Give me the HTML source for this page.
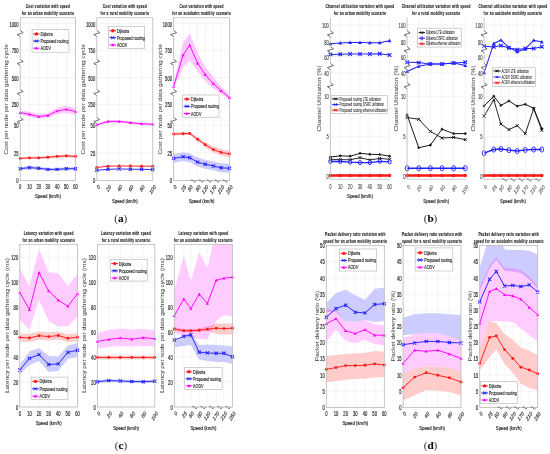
<!DOCTYPE html><html><head><meta charset="utf-8"><style>html,body{margin:0;padding:0;background:#fff;width:550px;height:454px;overflow:hidden}svg{display:block;will-change:transform;filter:blur(0.3px)}</style></head><body>
<svg width="550" height="454" viewBox="0 0 550 454" font-family='"Liberation Sans", sans-serif'>
<rect width="550" height="454" fill="#fff"/>
<line x1="20.2" y1="17.8" x2="20.2" y2="180.5" stroke="#ececec" stroke-width="0.6"/>
<line x1="29.43" y1="17.8" x2="29.43" y2="180.5" stroke="#ececec" stroke-width="0.6"/>
<line x1="38.67" y1="17.8" x2="38.67" y2="180.5" stroke="#ececec" stroke-width="0.6"/>
<line x1="47.9" y1="17.8" x2="47.9" y2="180.5" stroke="#ececec" stroke-width="0.6"/>
<line x1="57.13" y1="17.8" x2="57.13" y2="180.5" stroke="#ececec" stroke-width="0.6"/>
<line x1="66.37" y1="17.8" x2="66.37" y2="180.5" stroke="#ececec" stroke-width="0.6"/>
<line x1="75.6" y1="17.8" x2="75.6" y2="180.5" stroke="#ececec" stroke-width="0.6"/>
<line x1="20.2" y1="23.6" x2="75.6" y2="23.6" stroke="#ececec" stroke-width="0.6"/>
<line x1="20.2" y1="50.2" x2="75.6" y2="50.2" stroke="#ececec" stroke-width="0.6"/>
<line x1="20.2" y1="77.5" x2="75.6" y2="77.5" stroke="#ececec" stroke-width="0.6"/>
<line x1="20.2" y1="104.4" x2="75.6" y2="104.4" stroke="#ececec" stroke-width="0.6"/>
<line x1="20.2" y1="125.3" x2="75.6" y2="125.3" stroke="#ececec" stroke-width="0.6"/>
<line x1="20.2" y1="152.9" x2="75.6" y2="152.9" stroke="#ececec" stroke-width="0.6"/>
<line x1="20.2" y1="180.4" x2="75.6" y2="180.4" stroke="#ececec" stroke-width="0.6"/>
<line x1="96.8" y1="17.8" x2="96.8" y2="180.5" stroke="#ececec" stroke-width="0.6"/>
<line x1="108" y1="17.8" x2="108" y2="180.5" stroke="#ececec" stroke-width="0.6"/>
<line x1="119.2" y1="17.8" x2="119.2" y2="180.5" stroke="#ececec" stroke-width="0.6"/>
<line x1="130.4" y1="17.8" x2="130.4" y2="180.5" stroke="#ececec" stroke-width="0.6"/>
<line x1="141.6" y1="17.8" x2="141.6" y2="180.5" stroke="#ececec" stroke-width="0.6"/>
<line x1="152.8" y1="17.8" x2="152.8" y2="180.5" stroke="#ececec" stroke-width="0.6"/>
<line x1="96.8" y1="23.6" x2="152.8" y2="23.6" stroke="#ececec" stroke-width="0.6"/>
<line x1="96.8" y1="50.2" x2="152.8" y2="50.2" stroke="#ececec" stroke-width="0.6"/>
<line x1="96.8" y1="77.5" x2="152.8" y2="77.5" stroke="#ececec" stroke-width="0.6"/>
<line x1="96.8" y1="104.4" x2="152.8" y2="104.4" stroke="#ececec" stroke-width="0.6"/>
<line x1="96.8" y1="125.3" x2="152.8" y2="125.3" stroke="#ececec" stroke-width="0.6"/>
<line x1="96.8" y1="152.9" x2="152.8" y2="152.9" stroke="#ececec" stroke-width="0.6"/>
<line x1="96.8" y1="180.4" x2="152.8" y2="180.4" stroke="#ececec" stroke-width="0.6"/>
<line x1="173.6" y1="17.8" x2="173.6" y2="180.5" stroke="#ececec" stroke-width="0.6"/>
<line x1="183.1" y1="17.8" x2="183.1" y2="180.5" stroke="#ececec" stroke-width="0.6"/>
<line x1="189.7" y1="17.8" x2="189.7" y2="180.5" stroke="#ececec" stroke-width="0.6"/>
<line x1="197.6" y1="17.8" x2="197.6" y2="180.5" stroke="#ececec" stroke-width="0.6"/>
<line x1="205.2" y1="17.8" x2="205.2" y2="180.5" stroke="#ececec" stroke-width="0.6"/>
<line x1="213.4" y1="17.8" x2="213.4" y2="180.5" stroke="#ececec" stroke-width="0.6"/>
<line x1="221.1" y1="17.8" x2="221.1" y2="180.5" stroke="#ececec" stroke-width="0.6"/>
<line x1="229.5" y1="17.8" x2="229.5" y2="180.5" stroke="#ececec" stroke-width="0.6"/>
<line x1="173.6" y1="23.6" x2="229.5" y2="23.6" stroke="#ececec" stroke-width="0.6"/>
<line x1="173.6" y1="50.2" x2="229.5" y2="50.2" stroke="#ececec" stroke-width="0.6"/>
<line x1="173.6" y1="77.5" x2="229.5" y2="77.5" stroke="#ececec" stroke-width="0.6"/>
<line x1="173.6" y1="104.4" x2="229.5" y2="104.4" stroke="#ececec" stroke-width="0.6"/>
<line x1="173.6" y1="125.3" x2="229.5" y2="125.3" stroke="#ececec" stroke-width="0.6"/>
<line x1="173.6" y1="152.9" x2="229.5" y2="152.9" stroke="#ececec" stroke-width="0.6"/>
<line x1="173.6" y1="180.4" x2="229.5" y2="180.4" stroke="#ececec" stroke-width="0.6"/>
<clipPath id="ca0"><rect x="20.2" y="17.8" width="55.4" height="162.7"/></clipPath>
<clipPath id="ca1"><rect x="96.8" y="17.8" width="56" height="162.7"/></clipPath>
<clipPath id="ca2"><rect x="173.6" y="17.8" width="55.9" height="162.7"/></clipPath>
<polygon points="20.2,110 29.43,111.8 38.67,114 47.9,113 57.13,107.8 66.37,105.5 75.6,108 75.6,115 66.37,113 57.13,114 47.9,118 38.67,119 29.43,116.8 20.2,115" fill="#fff" clip-path="url(#ca0)"/>
<polygon points="20.2,157.2 29.43,156.7 38.67,156.7 47.9,156 57.13,155 66.37,154.5 75.6,155 75.6,157.8 66.37,157.3 57.13,157.8 47.9,158.6 38.67,159.1 29.43,159.1 20.2,159.6" fill="#fff" clip-path="url(#ca0)"/>
<polygon points="20.2,167.2 29.43,165.8 38.67,166.8 47.9,168 57.13,168 66.37,167.2 75.6,167.2 75.6,170.2 66.37,170.2 57.13,170.8 47.9,170.8 38.67,169.8 29.43,169.4 20.2,170.2" fill="#fff" clip-path="url(#ca0)"/>
<polygon points="20.2,110 29.43,111.8 38.67,114 47.9,113 57.13,107.8 66.37,105.5 75.6,108 75.6,115 66.37,113 57.13,114 47.9,118 38.67,119 29.43,116.8 20.2,115" fill="#ff00ff" fill-opacity="0.2" clip-path="url(#ca0)"/>
<polygon points="20.2,157.2 29.43,156.7 38.67,156.7 47.9,156 57.13,155 66.37,154.5 75.6,155 75.6,157.8 66.37,157.3 57.13,157.8 47.9,158.6 38.67,159.1 29.43,159.1 20.2,159.6" fill="#ff0000" fill-opacity="0.2" clip-path="url(#ca0)"/>
<polygon points="20.2,167.2 29.43,165.8 38.67,166.8 47.9,168 57.13,168 66.37,167.2 75.6,167.2 75.6,170.2 66.37,170.2 57.13,170.8 47.9,170.8 38.67,169.8 29.43,169.4 20.2,170.2" fill="#0000ff" fill-opacity="0.2" clip-path="url(#ca0)"/>
<polyline points="20.2,112.6 29.43,114.3 38.67,116.5 47.9,115.4 57.13,111 66.37,109.3 75.6,111.5" fill="none" stroke="#ff00ff" stroke-width="0.95" stroke-linejoin="round"/>
<polygon points="20.2,111 21.8,113.88 18.6,113.88" fill="#ff00ff"/>
<polygon points="29.43,112.7 31.03,115.58 27.83,115.58" fill="#ff00ff"/>
<polygon points="38.67,114.9 40.27,117.78 37.07,117.78" fill="#ff00ff"/>
<polygon points="47.9,113.8 49.5,116.68 46.3,116.68" fill="#ff00ff"/>
<polygon points="57.13,109.4 58.73,112.28 55.53,112.28" fill="#ff00ff"/>
<polygon points="66.37,107.7 67.97,110.58 64.77,110.58" fill="#ff00ff"/>
<polygon points="75.6,109.9 77.2,112.78 74,112.78" fill="#ff00ff"/>
<polyline points="20.2,158.4 29.43,157.9 38.67,157.9 47.9,157.3 57.13,156.4 66.37,155.9 75.6,156.4" fill="none" stroke="#ff1a1a" stroke-width="0.95" stroke-linejoin="round"/>
<circle cx="20.2" cy="158.4" r="1.45" fill="#ff1a1a"/>
<circle cx="29.43" cy="157.9" r="1.45" fill="#ff1a1a"/>
<circle cx="38.67" cy="157.9" r="1.45" fill="#ff1a1a"/>
<circle cx="47.9" cy="157.3" r="1.45" fill="#ff1a1a"/>
<circle cx="57.13" cy="156.4" r="1.45" fill="#ff1a1a"/>
<circle cx="66.37" cy="155.9" r="1.45" fill="#ff1a1a"/>
<circle cx="75.6" cy="156.4" r="1.45" fill="#ff1a1a"/>
<polyline points="20.2,168.7 29.43,167.6 38.67,168.3 47.9,169.4 57.13,169.4 66.37,168.7 75.6,168.7" fill="none" stroke="#2222ff" stroke-width="0.95" stroke-linejoin="round"/>
<path d="M18.6,167.1L21.8,170.3M18.6,170.3L21.8,167.1" stroke="#2222ff" stroke-width="1.05" fill="none"/>
<path d="M27.83,166L31.03,169.2M27.83,169.2L31.03,166" stroke="#2222ff" stroke-width="1.05" fill="none"/>
<path d="M37.07,166.7L40.27,169.9M37.07,169.9L40.27,166.7" stroke="#2222ff" stroke-width="1.05" fill="none"/>
<path d="M46.3,167.8L49.5,171M46.3,171L49.5,167.8" stroke="#2222ff" stroke-width="1.05" fill="none"/>
<path d="M55.53,167.8L58.73,171M55.53,171L58.73,167.8" stroke="#2222ff" stroke-width="1.05" fill="none"/>
<path d="M64.77,167.1L67.97,170.3M64.77,170.3L67.97,167.1" stroke="#2222ff" stroke-width="1.05" fill="none"/>
<path d="M74,167.1L77.2,170.3M74,170.3L77.2,167.1" stroke="#2222ff" stroke-width="1.05" fill="none"/>
<polygon points="96.8,123.5 108,120 119.2,120 130.4,121.3 141.6,122.4 152.8,122.8 152.8,125.6 141.6,125.2 130.4,124.1 119.2,122.8 108,122.8 96.8,126.3" fill="#fff" clip-path="url(#ca1)"/>
<polygon points="96.8,123.5 108,120 119.2,120 130.4,121.3 141.6,122.4 152.8,122.8 152.8,125.6 141.6,125.2 130.4,124.1 119.2,122.8 108,122.8 96.8,126.3" fill="#ff00ff" fill-opacity="0.2" clip-path="url(#ca1)"/>
<polyline points="96.8,124.9 108,121.4 119.2,121.4 130.4,122.7 141.6,123.8 152.8,124.2" fill="none" stroke="#ff00ff" stroke-width="0.95" stroke-linejoin="round"/>
<polygon points="96.8,123.3 98.4,126.18 95.2,126.18" fill="#ff00ff"/>
<polygon points="108,119.8 109.6,122.68 106.4,122.68" fill="#ff00ff"/>
<polygon points="119.2,119.8 120.8,122.68 117.6,122.68" fill="#ff00ff"/>
<polygon points="130.4,121.1 132,123.98 128.8,123.98" fill="#ff00ff"/>
<polygon points="141.6,122.2 143.2,125.08 140,125.08" fill="#ff00ff"/>
<polygon points="152.8,122.6 154.4,125.48 151.2,125.48" fill="#ff00ff"/>
<polyline points="96.8,167.5 108,166.2 119.2,166 130.4,166 141.6,166.2 152.8,166.2" fill="none" stroke="#ff1a1a" stroke-width="0.95" stroke-linejoin="round"/>
<circle cx="96.8" cy="167.5" r="1.45" fill="#ff1a1a"/>
<circle cx="108" cy="166.2" r="1.45" fill="#ff1a1a"/>
<circle cx="119.2" cy="166" r="1.45" fill="#ff1a1a"/>
<circle cx="130.4" cy="166" r="1.45" fill="#ff1a1a"/>
<circle cx="141.6" cy="166.2" r="1.45" fill="#ff1a1a"/>
<circle cx="152.8" cy="166.2" r="1.45" fill="#ff1a1a"/>
<polyline points="96.8,170.3 108,169.3 119.2,169 130.4,169.2 141.6,169.3 152.8,169.5" fill="none" stroke="#2222ff" stroke-width="0.95" stroke-linejoin="round"/>
<path d="M95.2,168.7L98.4,171.9M95.2,171.9L98.4,168.7" stroke="#2222ff" stroke-width="1.05" fill="none"/>
<path d="M106.4,167.7L109.6,170.9M106.4,170.9L109.6,167.7" stroke="#2222ff" stroke-width="1.05" fill="none"/>
<path d="M117.6,167.4L120.8,170.6M117.6,170.6L120.8,167.4" stroke="#2222ff" stroke-width="1.05" fill="none"/>
<path d="M128.8,167.6L132,170.8M128.8,170.8L132,167.6" stroke="#2222ff" stroke-width="1.05" fill="none"/>
<path d="M140,167.7L143.2,170.9M140,170.9L143.2,167.7" stroke="#2222ff" stroke-width="1.05" fill="none"/>
<path d="M151.2,167.9L154.4,171.1M151.2,171.1L154.4,167.9" stroke="#2222ff" stroke-width="1.05" fill="none"/>
<polygon points="173.6,83.7 183.1,42.5 189.7,33.5 197.6,52.8 205.2,66.8 213.4,77.1 221.1,86.5 229.5,94.9 229.5,99.6 221.1,94 213.4,88.4 205.2,80.9 197.6,71.5 189.7,60.3 183.1,67.8 173.6,88.4" fill="#fff" clip-path="url(#ca2)"/>
<polygon points="173.6,132.6 183.1,132.2 189.7,132 197.6,137.2 205.2,142.2 213.4,146.6 221.1,149 229.5,150.5 229.5,157.5 221.1,155.8 213.4,152.6 205.2,147.2 197.6,141.2 189.7,135 183.1,135.2 173.6,135.6" fill="#fff" clip-path="url(#ca2)"/>
<polygon points="173.6,154 183.1,152.3 189.7,153.2 197.6,157.6 205.2,159.8 213.4,161.5 221.1,163.3 229.5,163.8 229.5,172.8 221.1,172.3 213.4,170.5 205.2,168.8 197.6,166.6 189.7,162.2 183.1,161.3 173.6,162.8" fill="#fff" clip-path="url(#ca2)"/>
<polygon points="173.6,83.7 183.1,42.5 189.7,33.5 197.6,52.8 205.2,66.8 213.4,77.1 221.1,86.5 229.5,94.9 229.5,99.6 221.1,94 213.4,88.4 205.2,80.9 197.6,71.5 189.7,60.3 183.1,67.8 173.6,88.4" fill="#ff00ff" fill-opacity="0.22" clip-path="url(#ca2)"/>
<polygon points="173.6,132.6 183.1,132.2 189.7,132 197.6,137.2 205.2,142.2 213.4,146.6 221.1,149 229.5,150.5 229.5,157.5 221.1,155.8 213.4,152.6 205.2,147.2 197.6,141.2 189.7,135 183.1,135.2 173.6,135.6" fill="#ff0000" fill-opacity="0.2" clip-path="url(#ca2)"/>
<polygon points="173.6,154 183.1,152.3 189.7,153.2 197.6,157.6 205.2,159.8 213.4,161.5 221.1,163.3 229.5,163.8 229.5,172.8 221.1,172.3 213.4,170.5 205.2,168.8 197.6,166.6 189.7,162.2 183.1,161.3 173.6,162.8" fill="#0000ff" fill-opacity="0.2" clip-path="url(#ca2)"/>
<polyline points="173.6,86.5 183.1,55 189.7,45.3 197.6,63.1 205.2,74.7 213.4,83.7 221.1,90.8 229.5,97.7" fill="none" stroke="#ff00ff" stroke-width="0.95" stroke-linejoin="round"/>
<polygon points="173.6,84.9 175.2,87.78 172,87.78" fill="#ff00ff"/>
<polygon points="183.1,53.4 184.7,56.28 181.5,56.28" fill="#ff00ff"/>
<polygon points="189.7,43.7 191.3,46.58 188.1,46.58" fill="#ff00ff"/>
<polygon points="197.6,61.5 199.2,64.38 196,64.38" fill="#ff00ff"/>
<polygon points="205.2,73.1 206.8,75.98 203.6,75.98" fill="#ff00ff"/>
<polygon points="213.4,82.1 215,84.98 211.8,84.98" fill="#ff00ff"/>
<polygon points="221.1,89.2 222.7,92.08 219.5,92.08" fill="#ff00ff"/>
<polygon points="229.5,96.1 231.1,98.98 227.9,98.98" fill="#ff00ff"/>
<polyline points="173.6,134.1 183.1,133.7 189.7,133.5 197.6,139.2 205.2,144.7 213.4,149.6 221.1,152.4 229.5,154" fill="none" stroke="#ff1a1a" stroke-width="0.95" stroke-linejoin="round"/>
<circle cx="173.6" cy="134.1" r="1.45" fill="#ff1a1a"/>
<circle cx="183.1" cy="133.7" r="1.45" fill="#ff1a1a"/>
<circle cx="189.7" cy="133.5" r="1.45" fill="#ff1a1a"/>
<circle cx="197.6" cy="139.2" r="1.45" fill="#ff1a1a"/>
<circle cx="205.2" cy="144.7" r="1.45" fill="#ff1a1a"/>
<circle cx="213.4" cy="149.6" r="1.45" fill="#ff1a1a"/>
<circle cx="221.1" cy="152.4" r="1.45" fill="#ff1a1a"/>
<circle cx="229.5" cy="154" r="1.45" fill="#ff1a1a"/>
<polyline points="173.6,158.4 183.1,156.8 189.7,157.7 197.6,162.1 205.2,164.3 213.4,166 221.1,167.8 229.5,168.3" fill="none" stroke="#2222ff" stroke-width="0.95" stroke-linejoin="round"/>
<path d="M172,156.8L175.2,160M172,160L175.2,156.8" stroke="#2222ff" stroke-width="1.05" fill="none"/>
<path d="M181.5,155.2L184.7,158.4M181.5,158.4L184.7,155.2" stroke="#2222ff" stroke-width="1.05" fill="none"/>
<path d="M188.1,156.1L191.3,159.3M188.1,159.3L191.3,156.1" stroke="#2222ff" stroke-width="1.05" fill="none"/>
<path d="M196,160.5L199.2,163.7M196,163.7L199.2,160.5" stroke="#2222ff" stroke-width="1.05" fill="none"/>
<path d="M203.6,162.7L206.8,165.9M203.6,165.9L206.8,162.7" stroke="#2222ff" stroke-width="1.05" fill="none"/>
<path d="M211.8,164.4L215,167.6M211.8,167.6L215,164.4" stroke="#2222ff" stroke-width="1.05" fill="none"/>
<path d="M219.5,166.2L222.7,169.4M219.5,169.4L222.7,166.2" stroke="#2222ff" stroke-width="1.05" fill="none"/>
<path d="M227.9,166.7L231.1,169.9M227.9,169.9L231.1,166.7" stroke="#2222ff" stroke-width="1.05" fill="none"/>
<rect x="20.2" y="17.8" width="55.4" height="162.7" fill="none" stroke="#b4b4b4" stroke-width="0.7"/>
<rect x="19.2" y="30.9" width="2" height="5.2" fill="#fff"/>
<path d="M20.4,30.7 L23.2,32.7 L17.2,34.6 L20,36.4" stroke="#555" stroke-width="0.85" fill="none" stroke-linejoin="round"/>
<rect x="19.2" y="59.7" width="2" height="5.2" fill="#fff"/>
<path d="M20.4,59.5 L23.2,61.5 L17.2,63.4 L20,65.2" stroke="#555" stroke-width="0.85" fill="none" stroke-linejoin="round"/>
<rect x="19.2" y="89.8" width="2" height="5.2" fill="#fff"/>
<path d="M20.4,89.6 L23.2,91.6 L17.2,93.5 L20,95.3" stroke="#555" stroke-width="0.85" fill="none" stroke-linejoin="round"/>
<rect x="19.2" y="117.8" width="2" height="5.2" fill="#fff"/>
<path d="M20.4,117.6 L23.2,119.6 L17.2,121.5 L20,123.3" stroke="#555" stroke-width="0.85" fill="none" stroke-linejoin="round"/>
<text transform="translate(47.9,6.2) scale(0.56,1)" y="2.09" font-size="5.8" text-anchor="middle" font-weight="bold" fill="#111" stroke="#111" stroke-width="0.12" letter-spacing="0.36">Cost variation with speed</text>
<text transform="translate(47.9,13) scale(0.56,1)" y="2.09" font-size="5.8" text-anchor="middle" font-weight="bold" fill="#111" stroke="#111" stroke-width="0.12" letter-spacing="0.36">for an urban mobility scenario</text>
<text transform="translate(18.6,24.4) scale(0.655,1)" y="2.27" font-size="6.3" text-anchor="end" fill="#262626" stroke="#262626" stroke-width="0.18">1000</text>
<text transform="translate(18.6,51) scale(0.655,1)" y="2.27" font-size="6.3" text-anchor="end" fill="#262626" stroke="#262626" stroke-width="0.18">750</text>
<text transform="translate(18.6,78.3) scale(0.655,1)" y="2.27" font-size="6.3" text-anchor="end" fill="#262626" stroke="#262626" stroke-width="0.18">500</text>
<text transform="translate(18.6,105.2) scale(0.655,1)" y="2.27" font-size="6.3" text-anchor="end" fill="#262626" stroke="#262626" stroke-width="0.18">250</text>
<text transform="translate(18.6,126.1) scale(0.655,1)" y="2.27" font-size="6.3" text-anchor="end" fill="#262626" stroke="#262626" stroke-width="0.18">50</text>
<text transform="translate(18.6,153.7) scale(0.655,1)" y="2.27" font-size="6.3" text-anchor="end" fill="#262626" stroke="#262626" stroke-width="0.18">25</text>
<text transform="translate(18.6,181.2) scale(0.655,1)" y="2.27" font-size="6.3" text-anchor="end" fill="#262626" stroke="#262626" stroke-width="0.18">0</text>
<text transform="translate(20.2,186.8) scale(0.655,1)" y="2.27" font-size="6.3" text-anchor="middle" fill="#262626" stroke="#262626" stroke-width="0.18">0</text>
<text transform="translate(29.43,186.8) scale(0.655,1)" y="2.27" font-size="6.3" text-anchor="middle" fill="#262626" stroke="#262626" stroke-width="0.18">10</text>
<text transform="translate(38.67,186.8) scale(0.655,1)" y="2.27" font-size="6.3" text-anchor="middle" fill="#262626" stroke="#262626" stroke-width="0.18">20</text>
<text transform="translate(47.9,186.8) scale(0.655,1)" y="2.27" font-size="6.3" text-anchor="middle" fill="#262626" stroke="#262626" stroke-width="0.18">30</text>
<text transform="translate(57.13,186.8) scale(0.655,1)" y="2.27" font-size="6.3" text-anchor="middle" fill="#262626" stroke="#262626" stroke-width="0.18">40</text>
<text transform="translate(66.37,186.8) scale(0.655,1)" y="2.27" font-size="6.3" text-anchor="middle" fill="#262626" stroke="#262626" stroke-width="0.18">50</text>
<text transform="translate(75.6,186.8) scale(0.655,1)" y="2.27" font-size="6.3" text-anchor="middle" fill="#262626" stroke="#262626" stroke-width="0.18">60</text>
<text transform="translate(47.9,195.8) scale(0.73,1)" y="2.12" font-size="5.9" text-anchor="middle" fill="#262626" stroke="#262626" stroke-width="0.18">Speed (km/h)</text>
<text transform="translate(6.5,99.3) scale(0.72,1) rotate(-90)" y="2.31" font-size="6.42" text-anchor="middle" fill="#4a4a4a" stroke="#4a4a4a" stroke-width="0.05">Cost per node per data gathering cycle</text>
<rect x="96.8" y="17.8" width="56" height="162.7" fill="none" stroke="#b4b4b4" stroke-width="0.7"/>
<rect x="95.8" y="30.9" width="2" height="5.2" fill="#fff"/>
<path d="M97,30.7 L99.8,32.7 L93.8,34.6 L96.6,36.4" stroke="#555" stroke-width="0.85" fill="none" stroke-linejoin="round"/>
<rect x="95.8" y="59.7" width="2" height="5.2" fill="#fff"/>
<path d="M97,59.5 L99.8,61.5 L93.8,63.4 L96.6,65.2" stroke="#555" stroke-width="0.85" fill="none" stroke-linejoin="round"/>
<rect x="95.8" y="89.8" width="2" height="5.2" fill="#fff"/>
<path d="M97,89.6 L99.8,91.6 L93.8,93.5 L96.6,95.3" stroke="#555" stroke-width="0.85" fill="none" stroke-linejoin="round"/>
<rect x="95.8" y="117.8" width="2" height="5.2" fill="#fff"/>
<path d="M97,117.6 L99.8,119.6 L93.8,121.5 L96.6,123.3" stroke="#555" stroke-width="0.85" fill="none" stroke-linejoin="round"/>
<text transform="translate(124.8,6.2) scale(0.56,1)" y="2.09" font-size="5.8" text-anchor="middle" font-weight="bold" fill="#111" stroke="#111" stroke-width="0.12" letter-spacing="0.36">Cost variation with speed</text>
<text transform="translate(124.8,13) scale(0.56,1)" y="2.09" font-size="5.8" text-anchor="middle" font-weight="bold" fill="#111" stroke="#111" stroke-width="0.12" letter-spacing="0.36">for a rural mobility scenario</text>
<text transform="translate(95.2,24.4) scale(0.655,1)" y="2.27" font-size="6.3" text-anchor="end" fill="#262626" stroke="#262626" stroke-width="0.18">1000</text>
<text transform="translate(95.2,51) scale(0.655,1)" y="2.27" font-size="6.3" text-anchor="end" fill="#262626" stroke="#262626" stroke-width="0.18">750</text>
<text transform="translate(95.2,78.3) scale(0.655,1)" y="2.27" font-size="6.3" text-anchor="end" fill="#262626" stroke="#262626" stroke-width="0.18">500</text>
<text transform="translate(95.2,105.2) scale(0.655,1)" y="2.27" font-size="6.3" text-anchor="end" fill="#262626" stroke="#262626" stroke-width="0.18">250</text>
<text transform="translate(95.2,126.1) scale(0.655,1)" y="2.27" font-size="6.3" text-anchor="end" fill="#262626" stroke="#262626" stroke-width="0.18">50</text>
<text transform="translate(95.2,153.7) scale(0.655,1)" y="2.27" font-size="6.3" text-anchor="end" fill="#262626" stroke="#262626" stroke-width="0.18">25</text>
<text transform="translate(95.2,181.2) scale(0.655,1)" y="2.27" font-size="6.3" text-anchor="end" fill="#262626" stroke="#262626" stroke-width="0.18">0</text>
<text transform="translate(99,185.6) scale(0.655,1) rotate(-45)" y="2.27" font-size="6.3" text-anchor="end" fill="#262626" stroke="#262626" stroke-width="0.18">0</text>
<text transform="translate(110.2,185.6) scale(0.655,1) rotate(-45)" y="2.27" font-size="6.3" text-anchor="end" fill="#262626" stroke="#262626" stroke-width="0.18">20</text>
<text transform="translate(121.4,185.6) scale(0.655,1) rotate(-45)" y="2.27" font-size="6.3" text-anchor="end" fill="#262626" stroke="#262626" stroke-width="0.18">40</text>
<text transform="translate(132.6,185.6) scale(0.655,1) rotate(-45)" y="2.27" font-size="6.3" text-anchor="end" fill="#262626" stroke="#262626" stroke-width="0.18">60</text>
<text transform="translate(143.8,185.6) scale(0.655,1) rotate(-45)" y="2.27" font-size="6.3" text-anchor="end" fill="#262626" stroke="#262626" stroke-width="0.18">80</text>
<text transform="translate(155,185.6) scale(0.655,1) rotate(-45)" y="2.27" font-size="6.3" text-anchor="end" fill="#262626" stroke="#262626" stroke-width="0.18">100</text>
<text transform="translate(124.8,201.3) scale(0.73,1)" y="2.12" font-size="5.9" text-anchor="middle" fill="#262626" stroke="#262626" stroke-width="0.18">Speed (km/h)</text>
<text transform="translate(83.3,99.3) scale(0.72,1) rotate(-90)" y="2.31" font-size="6.42" text-anchor="middle" fill="#4a4a4a" stroke="#4a4a4a" stroke-width="0.05">Cost per node per data gathering cycle</text>
<rect x="173.6" y="17.8" width="55.9" height="162.7" fill="none" stroke="#b4b4b4" stroke-width="0.7"/>
<rect x="172.6" y="30.9" width="2" height="5.2" fill="#fff"/>
<path d="M173.8,30.7 L176.6,32.7 L170.6,34.6 L173.4,36.4" stroke="#555" stroke-width="0.85" fill="none" stroke-linejoin="round"/>
<rect x="172.6" y="59.7" width="2" height="5.2" fill="#fff"/>
<path d="M173.8,59.5 L176.6,61.5 L170.6,63.4 L173.4,65.2" stroke="#555" stroke-width="0.85" fill="none" stroke-linejoin="round"/>
<rect x="172.6" y="89.8" width="2" height="5.2" fill="#fff"/>
<path d="M173.8,89.6 L176.6,91.6 L170.6,93.5 L173.4,95.3" stroke="#555" stroke-width="0.85" fill="none" stroke-linejoin="round"/>
<rect x="172.6" y="117.8" width="2" height="5.2" fill="#fff"/>
<path d="M173.8,117.6 L176.6,119.6 L170.6,121.5 L173.4,123.3" stroke="#555" stroke-width="0.85" fill="none" stroke-linejoin="round"/>
<path d="M190.65,180.5 L192.45,179.8 L194.45,182.5 L196.25,180.5" stroke="#6a6a6a" stroke-width="0.8" fill="none" stroke-linejoin="round"/>
<path d="M198.4,180.5 L200.2,179.8 L202.2,182.5 L204,180.5" stroke="#6a6a6a" stroke-width="0.8" fill="none" stroke-linejoin="round"/>
<path d="M206.3,180.5 L208.1,179.8 L210.1,182.5 L211.9,180.5" stroke="#6a6a6a" stroke-width="0.8" fill="none" stroke-linejoin="round"/>
<path d="M214.25,180.5 L216.05,179.8 L218.05,182.5 L219.85,180.5" stroke="#6a6a6a" stroke-width="0.8" fill="none" stroke-linejoin="round"/>
<path d="M222.3,180.5 L224.1,179.8 L226.1,182.5 L227.9,180.5" stroke="#6a6a6a" stroke-width="0.8" fill="none" stroke-linejoin="round"/>
<text transform="translate(201.55,6.2) scale(0.56,1)" y="2.09" font-size="5.8" text-anchor="middle" font-weight="bold" fill="#111" stroke="#111" stroke-width="0.12" letter-spacing="0.36">Cost variation with speed</text>
<text transform="translate(201.55,13) scale(0.56,1)" y="2.09" font-size="5.8" text-anchor="middle" font-weight="bold" fill="#111" stroke="#111" stroke-width="0.12" letter-spacing="0.36">for an autobahn mobility scenario</text>
<text transform="translate(172,24.4) scale(0.655,1)" y="2.27" font-size="6.3" text-anchor="end" fill="#262626" stroke="#262626" stroke-width="0.18">1000</text>
<text transform="translate(172,51) scale(0.655,1)" y="2.27" font-size="6.3" text-anchor="end" fill="#262626" stroke="#262626" stroke-width="0.18">750</text>
<text transform="translate(172,78.3) scale(0.655,1)" y="2.27" font-size="6.3" text-anchor="end" fill="#262626" stroke="#262626" stroke-width="0.18">500</text>
<text transform="translate(172,105.2) scale(0.655,1)" y="2.27" font-size="6.3" text-anchor="end" fill="#262626" stroke="#262626" stroke-width="0.18">250</text>
<text transform="translate(172,126.1) scale(0.655,1)" y="2.27" font-size="6.3" text-anchor="end" fill="#262626" stroke="#262626" stroke-width="0.18">50</text>
<text transform="translate(172,153.7) scale(0.655,1)" y="2.27" font-size="6.3" text-anchor="end" fill="#262626" stroke="#262626" stroke-width="0.18">25</text>
<text transform="translate(172,181.2) scale(0.655,1)" y="2.27" font-size="6.3" text-anchor="end" fill="#262626" stroke="#262626" stroke-width="0.18">0</text>
<text transform="translate(175.8,185.6) scale(0.655,1) rotate(-45)" y="2.27" font-size="6.3" text-anchor="end" fill="#262626" stroke="#262626" stroke-width="0.18">0</text>
<text transform="translate(185.3,185.6) scale(0.655,1) rotate(-45)" y="2.27" font-size="6.3" text-anchor="end" fill="#262626" stroke="#262626" stroke-width="0.18">25</text>
<text transform="translate(191.9,185.6) scale(0.655,1) rotate(-45)" y="2.27" font-size="6.3" text-anchor="end" fill="#262626" stroke="#262626" stroke-width="0.18">50</text>
<text transform="translate(199.8,185.6) scale(0.655,1) rotate(-45)" y="2.27" font-size="6.3" text-anchor="end" fill="#262626" stroke="#262626" stroke-width="0.18">80</text>
<text transform="translate(207.4,185.6) scale(0.655,1) rotate(-45)" y="2.27" font-size="6.3" text-anchor="end" fill="#262626" stroke="#262626" stroke-width="0.18">120</text>
<text transform="translate(215.6,185.6) scale(0.655,1) rotate(-45)" y="2.27" font-size="6.3" text-anchor="end" fill="#262626" stroke="#262626" stroke-width="0.18">170</text>
<text transform="translate(223.3,185.6) scale(0.655,1) rotate(-45)" y="2.27" font-size="6.3" text-anchor="end" fill="#262626" stroke="#262626" stroke-width="0.18">210</text>
<text transform="translate(231.7,185.6) scale(0.655,1) rotate(-45)" y="2.27" font-size="6.3" text-anchor="end" fill="#262626" stroke="#262626" stroke-width="0.18">250</text>
<text transform="translate(201.55,201.3) scale(0.73,1)" y="2.12" font-size="5.9" text-anchor="middle" fill="#262626" stroke="#262626" stroke-width="0.18">Speed (km/h)</text>
<text transform="translate(159.9,99.3) scale(0.72,1) rotate(-90)" y="2.31" font-size="6.42" text-anchor="middle" fill="#4a4a4a" stroke="#4a4a4a" stroke-width="0.05">Cost per node per data gathering cycle</text>
<rect x="32.1" y="29.3" width="36.8" height="22.9" fill="#fff" stroke="#b4b4b4" stroke-width="0.6"/>
<line x1="33.1" y1="34" x2="39.7" y2="34" stroke="#ff1a1a" stroke-width="1"/>
<circle cx="36.4" cy="34" r="1.7" fill="#ff1a1a"/>
<text transform="translate(40.5,34) scale(0.645,1)" y="2.05" font-size="5.7" text-anchor="start" fill="#202020" stroke="#202020" stroke-width="0.14">Dijkstra</text>
<line x1="33.1" y1="41" x2="39.7" y2="41" stroke="#2222ff" stroke-width="1"/>
<path d="M34.7,39.3L38.1,42.7M34.7,42.7L38.1,39.3M34.36,41L38.44,41" stroke="#2222ff" stroke-width="0.8" fill="none"/>
<text transform="translate(40.5,41) scale(0.645,1)" y="2.05" font-size="5.7" text-anchor="start" fill="#202020" stroke="#202020" stroke-width="0.14">Proposed routing</text>
<line x1="33.1" y1="48.2" x2="39.7" y2="48.2" stroke="#ff00ff" stroke-width="1"/>
<polygon points="36.4,46.5 38.1,49.56 34.7,49.56" fill="#ff00ff"/>
<text transform="translate(40.5,48.2) scale(0.645,1)" y="2.05" font-size="5.7" text-anchor="start" fill="#202020" stroke="#202020" stroke-width="0.14">AODV</text>
<rect x="108.5" y="26.3" width="36.2" height="22.3" fill="#fff" stroke="#b4b4b4" stroke-width="0.6"/>
<line x1="109.5" y1="30.7" x2="116.1" y2="30.7" stroke="#ff1a1a" stroke-width="1"/>
<circle cx="112.8" cy="30.7" r="1.7" fill="#ff1a1a"/>
<text transform="translate(116.9,30.7) scale(0.645,1)" y="2.05" font-size="5.7" text-anchor="start" fill="#202020" stroke="#202020" stroke-width="0.14">Dijkstra</text>
<line x1="109.5" y1="37.7" x2="116.1" y2="37.7" stroke="#2222ff" stroke-width="1"/>
<path d="M111.1,36L114.5,39.4M111.1,39.4L114.5,36M110.76,37.7L114.84,37.7" stroke="#2222ff" stroke-width="0.8" fill="none"/>
<text transform="translate(116.9,37.7) scale(0.645,1)" y="2.05" font-size="5.7" text-anchor="start" fill="#202020" stroke="#202020" stroke-width="0.14">Proposed routing</text>
<line x1="109.5" y1="44.9" x2="116.1" y2="44.9" stroke="#ff00ff" stroke-width="1"/>
<polygon points="112.8,43.2 114.5,46.26 111.1,46.26" fill="#ff00ff"/>
<text transform="translate(116.9,44.9) scale(0.645,1)" y="2.05" font-size="5.7" text-anchor="start" fill="#202020" stroke="#202020" stroke-width="0.14">AODV</text>
<rect x="182.7" y="95" width="36.3" height="22.2" fill="#fff" stroke="#b4b4b4" stroke-width="0.6"/>
<line x1="183.7" y1="99.1" x2="190.2" y2="99.1" stroke="#ff1a1a" stroke-width="1"/>
<circle cx="186.95" cy="99.1" r="1.7" fill="#ff1a1a"/>
<text transform="translate(191,99.1) scale(0.645,1)" y="2.05" font-size="5.7" text-anchor="start" fill="#202020" stroke="#202020" stroke-width="0.14">Dijkstra</text>
<line x1="183.7" y1="106.3" x2="190.2" y2="106.3" stroke="#2222ff" stroke-width="1"/>
<path d="M185.25,104.6L188.65,108M185.25,108L188.65,104.6M184.91,106.3L188.99,106.3" stroke="#2222ff" stroke-width="0.8" fill="none"/>
<text transform="translate(191,106.3) scale(0.645,1)" y="2.05" font-size="5.7" text-anchor="start" fill="#202020" stroke="#202020" stroke-width="0.14">Proposed routing</text>
<line x1="183.7" y1="113.5" x2="190.2" y2="113.5" stroke="#ff00ff" stroke-width="1"/>
<polygon points="186.95,111.8 188.65,114.86 185.25,114.86" fill="#ff00ff"/>
<text transform="translate(191,113.5) scale(0.645,1)" y="2.05" font-size="5.7" text-anchor="start" fill="#202020" stroke="#202020" stroke-width="0.14">AODV</text>
<text x="120.8" y="221.7" font-size="11.2" text-anchor="middle" font-family="Liberation Serif, serif" fill="#111" letter-spacing="0"><tspan fill="#333">(</tspan><tspan font-weight="bold" stroke="#111" stroke-width="0.15">a</tspan><tspan fill="#333">)</tspan></text>
<line x1="330.4" y1="17.8" x2="330.4" y2="179.3" stroke="#ececec" stroke-width="0.6"/>
<line x1="340.27" y1="17.8" x2="340.27" y2="179.3" stroke="#ececec" stroke-width="0.6"/>
<line x1="350.13" y1="17.8" x2="350.13" y2="179.3" stroke="#ececec" stroke-width="0.6"/>
<line x1="360" y1="17.8" x2="360" y2="179.3" stroke="#ececec" stroke-width="0.6"/>
<line x1="369.87" y1="17.8" x2="369.87" y2="179.3" stroke="#ececec" stroke-width="0.6"/>
<line x1="379.73" y1="17.8" x2="379.73" y2="179.3" stroke="#ececec" stroke-width="0.6"/>
<line x1="389.6" y1="17.8" x2="389.6" y2="179.3" stroke="#ececec" stroke-width="0.6"/>
<line x1="330.4" y1="24.9" x2="389.6" y2="24.9" stroke="#ececec" stroke-width="0.6"/>
<line x1="330.4" y1="41.8" x2="389.6" y2="41.8" stroke="#ececec" stroke-width="0.6"/>
<line x1="330.4" y1="56.6" x2="389.6" y2="56.6" stroke="#ececec" stroke-width="0.6"/>
<line x1="330.4" y1="72.8" x2="389.6" y2="72.8" stroke="#ececec" stroke-width="0.6"/>
<line x1="330.4" y1="96.4" x2="389.6" y2="96.4" stroke="#ececec" stroke-width="0.6"/>
<line x1="330.4" y1="136.4" x2="389.6" y2="136.4" stroke="#ececec" stroke-width="0.6"/>
<line x1="330.4" y1="176.3" x2="389.6" y2="176.3" stroke="#ececec" stroke-width="0.6"/>
<line x1="407.1" y1="17.8" x2="407.1" y2="179.3" stroke="#ececec" stroke-width="0.6"/>
<line x1="418.74" y1="17.8" x2="418.74" y2="179.3" stroke="#ececec" stroke-width="0.6"/>
<line x1="430.38" y1="17.8" x2="430.38" y2="179.3" stroke="#ececec" stroke-width="0.6"/>
<line x1="442.02" y1="17.8" x2="442.02" y2="179.3" stroke="#ececec" stroke-width="0.6"/>
<line x1="453.66" y1="17.8" x2="453.66" y2="179.3" stroke="#ececec" stroke-width="0.6"/>
<line x1="465.3" y1="17.8" x2="465.3" y2="179.3" stroke="#ececec" stroke-width="0.6"/>
<line x1="407.1" y1="24.9" x2="465.3" y2="24.9" stroke="#ececec" stroke-width="0.6"/>
<line x1="407.1" y1="41.8" x2="465.3" y2="41.8" stroke="#ececec" stroke-width="0.6"/>
<line x1="407.1" y1="56.6" x2="465.3" y2="56.6" stroke="#ececec" stroke-width="0.6"/>
<line x1="407.1" y1="72.8" x2="465.3" y2="72.8" stroke="#ececec" stroke-width="0.6"/>
<line x1="407.1" y1="96.4" x2="465.3" y2="96.4" stroke="#ececec" stroke-width="0.6"/>
<line x1="407.1" y1="136.4" x2="465.3" y2="136.4" stroke="#ececec" stroke-width="0.6"/>
<line x1="407.1" y1="176.3" x2="465.3" y2="176.3" stroke="#ececec" stroke-width="0.6"/>
<line x1="484.1" y1="17.8" x2="484.1" y2="179.3" stroke="#ececec" stroke-width="0.6"/>
<line x1="493.8" y1="17.8" x2="493.8" y2="179.3" stroke="#ececec" stroke-width="0.6"/>
<line x1="500.9" y1="17.8" x2="500.9" y2="179.3" stroke="#ececec" stroke-width="0.6"/>
<line x1="508.9" y1="17.8" x2="508.9" y2="179.3" stroke="#ececec" stroke-width="0.6"/>
<line x1="517.2" y1="17.8" x2="517.2" y2="179.3" stroke="#ececec" stroke-width="0.6"/>
<line x1="525.3" y1="17.8" x2="525.3" y2="179.3" stroke="#ececec" stroke-width="0.6"/>
<line x1="533.7" y1="17.8" x2="533.7" y2="179.3" stroke="#ececec" stroke-width="0.6"/>
<line x1="541.8" y1="17.8" x2="541.8" y2="179.3" stroke="#ececec" stroke-width="0.6"/>
<line x1="484.1" y1="24.9" x2="541.8" y2="24.9" stroke="#ececec" stroke-width="0.6"/>
<line x1="484.1" y1="41.8" x2="541.8" y2="41.8" stroke="#ececec" stroke-width="0.6"/>
<line x1="484.1" y1="56.6" x2="541.8" y2="56.6" stroke="#ececec" stroke-width="0.6"/>
<line x1="484.1" y1="72.8" x2="541.8" y2="72.8" stroke="#ececec" stroke-width="0.6"/>
<line x1="484.1" y1="96.4" x2="541.8" y2="96.4" stroke="#ececec" stroke-width="0.6"/>
<line x1="484.1" y1="136.4" x2="541.8" y2="136.4" stroke="#ececec" stroke-width="0.6"/>
<line x1="484.1" y1="176.3" x2="541.8" y2="176.3" stroke="#ececec" stroke-width="0.6"/>
<polyline points="330.4,43.7 340.27,42.9 350.13,42.5 360,42.5 369.87,42.7 379.73,42.7 389.6,40.7" fill="none" stroke="#2222ff" stroke-width="1.05" stroke-linejoin="round"/>
<polygon points="330.4,41.8 332.3,45.22 328.5,45.22" fill="#2222ff"/>
<polygon points="340.27,41 342.17,44.42 338.37,44.42" fill="#2222ff"/>
<polygon points="350.13,40.6 352.03,44.02 348.23,44.02" fill="#2222ff"/>
<polygon points="360,40.6 361.9,44.02 358.1,44.02" fill="#2222ff"/>
<polygon points="369.87,40.8 371.77,44.22 367.97,44.22" fill="#2222ff"/>
<polygon points="379.73,40.8 381.63,44.22 377.83,44.22" fill="#2222ff"/>
<polygon points="389.6,38.8 391.5,42.22 387.7,42.22" fill="#2222ff"/>
<polyline points="330.4,54.4 340.27,54.2 350.13,54 360,54 369.87,54 379.73,53.7 389.6,55" fill="none" stroke="#2222ff" stroke-width="1.05" stroke-linejoin="round"/>
<path d="M328.6,52.6L332.2,56.2M328.6,56.2L332.2,52.6" stroke="#2222ff" stroke-width="1.15" fill="none"/>
<path d="M338.47,52.4L342.07,56M338.47,56L342.07,52.4" stroke="#2222ff" stroke-width="1.15" fill="none"/>
<path d="M348.33,52.2L351.93,55.8M348.33,55.8L351.93,52.2" stroke="#2222ff" stroke-width="1.15" fill="none"/>
<path d="M358.2,52.2L361.8,55.8M358.2,55.8L361.8,52.2" stroke="#2222ff" stroke-width="1.15" fill="none"/>
<path d="M368.07,52.2L371.67,55.8M368.07,55.8L371.67,52.2" stroke="#2222ff" stroke-width="1.15" fill="none"/>
<path d="M377.93,51.9L381.53,55.5M377.93,55.5L381.53,51.9" stroke="#2222ff" stroke-width="1.15" fill="none"/>
<path d="M387.8,53.2L391.4,56.8M387.8,56.8L391.4,53.2" stroke="#2222ff" stroke-width="1.15" fill="none"/>
<polyline points="330.4,157.1 340.27,155.8 350.13,156.2 360,153.3 369.87,154.3 379.73,154.5 389.6,156.2" fill="none" stroke="#1a1a1a" stroke-width="1.0" stroke-linejoin="round"/>
<polygon points="330.4,155.5 332,157.1 330.4,158.7 328.8,157.1" fill="#1a1a1a"/>
<polygon points="340.27,154.2 341.87,155.8 340.27,157.4 338.67,155.8" fill="#1a1a1a"/>
<polygon points="350.13,154.6 351.73,156.2 350.13,157.8 348.53,156.2" fill="#1a1a1a"/>
<polygon points="360,151.7 361.6,153.3 360,154.9 358.4,153.3" fill="#1a1a1a"/>
<polygon points="369.87,152.7 371.47,154.3 369.87,155.9 368.27,154.3" fill="#1a1a1a"/>
<polygon points="379.73,152.9 381.33,154.5 379.73,156.1 378.13,154.5" fill="#1a1a1a"/>
<polygon points="389.6,154.6 391.2,156.2 389.6,157.8 388,156.2" fill="#1a1a1a"/>
<polyline points="330.4,159.6 340.27,159.6 350.13,159.8 360,157.7 369.87,160 379.73,158.4 389.6,159.3" fill="none" stroke="#1a1a1a" stroke-width="0.95" stroke-linejoin="round"/>
<path d="M328.9,158.1L331.9,161.1M328.9,161.1L331.9,158.1" stroke="#1a1a1a" stroke-width="1.0" fill="none"/>
<path d="M338.77,158.1L341.77,161.1M338.77,161.1L341.77,158.1" stroke="#1a1a1a" stroke-width="1.0" fill="none"/>
<path d="M348.63,158.3L351.63,161.3M348.63,161.3L351.63,158.3" stroke="#1a1a1a" stroke-width="1.0" fill="none"/>
<path d="M358.5,156.2L361.5,159.2M358.5,159.2L361.5,156.2" stroke="#1a1a1a" stroke-width="1.0" fill="none"/>
<path d="M368.37,158.5L371.37,161.5M368.37,161.5L371.37,158.5" stroke="#1a1a1a" stroke-width="1.0" fill="none"/>
<path d="M378.23,156.9L381.23,159.9M378.23,159.9L381.23,156.9" stroke="#1a1a1a" stroke-width="1.0" fill="none"/>
<path d="M388.1,157.8L391.1,160.8M388.1,160.8L391.1,157.8" stroke="#1a1a1a" stroke-width="1.0" fill="none"/>
<polyline points="330.4,161.5 340.27,161.5 350.13,162.2 360,162.6 369.87,162.6 379.73,161.3 389.6,161.9" fill="none" stroke="#2222ff" stroke-width="1.3" stroke-linejoin="round"/>
<ellipse cx="330.4" cy="161.5" rx="1.7" ry="2.1" fill="none" stroke="#2222ff" stroke-width="0.9"/>
<ellipse cx="340.27" cy="161.5" rx="1.7" ry="2.1" fill="none" stroke="#2222ff" stroke-width="0.9"/>
<ellipse cx="350.13" cy="162.2" rx="1.7" ry="2.1" fill="none" stroke="#2222ff" stroke-width="0.9"/>
<ellipse cx="360" cy="162.6" rx="1.7" ry="2.1" fill="none" stroke="#2222ff" stroke-width="0.9"/>
<ellipse cx="369.87" cy="162.6" rx="1.7" ry="2.1" fill="none" stroke="#2222ff" stroke-width="0.9"/>
<ellipse cx="379.73" cy="161.3" rx="1.7" ry="2.1" fill="none" stroke="#2222ff" stroke-width="0.9"/>
<ellipse cx="389.6" cy="161.9" rx="1.7" ry="2.1" fill="none" stroke="#2222ff" stroke-width="0.9"/>
<polyline points="330.4,175.5 340.27,175.5 350.13,175.5 360,175.5 369.87,175.5 379.73,175.5 389.6,175.5" fill="none" stroke="#ff1a1a" stroke-width="2.6" stroke-linejoin="round"/>
<circle cx="330.4" cy="175.5" r="1.7" fill="#ff1a1a"/>
<circle cx="340.27" cy="175.5" r="1.7" fill="#ff1a1a"/>
<circle cx="350.13" cy="175.5" r="1.7" fill="#ff1a1a"/>
<circle cx="360" cy="175.5" r="1.7" fill="#ff1a1a"/>
<circle cx="369.87" cy="175.5" r="1.7" fill="#ff1a1a"/>
<circle cx="379.73" cy="175.5" r="1.7" fill="#ff1a1a"/>
<circle cx="389.6" cy="175.5" r="1.7" fill="#ff1a1a"/>
<polyline points="407.1,62.3 418.74,62.6 430.38,64 442.02,64 453.66,63 465.3,62.3" fill="none" stroke="#2222ff" stroke-width="1.05" stroke-linejoin="round"/>
<path d="M405.3,60.5L408.9,64.1M405.3,64.1L408.9,60.5" stroke="#2222ff" stroke-width="1.15" fill="none"/>
<path d="M416.94,60.8L420.54,64.4M416.94,64.4L420.54,60.8" stroke="#2222ff" stroke-width="1.15" fill="none"/>
<path d="M428.58,62.2L432.18,65.8M428.58,65.8L432.18,62.2" stroke="#2222ff" stroke-width="1.15" fill="none"/>
<path d="M440.22,62.2L443.82,65.8M440.22,65.8L443.82,62.2" stroke="#2222ff" stroke-width="1.15" fill="none"/>
<path d="M451.86,61.2L455.46,64.8M451.86,64.8L455.46,61.2" stroke="#2222ff" stroke-width="1.15" fill="none"/>
<path d="M463.5,60.5L467.1,64.1M463.5,64.1L467.1,60.5" stroke="#2222ff" stroke-width="1.15" fill="none"/>
<polyline points="407.1,71.5 418.74,66.3 430.38,64 442.02,64 453.66,63 465.3,65.6" fill="none" stroke="#2222ff" stroke-width="1.05" stroke-linejoin="round"/>
<polygon points="407.1,69.6 409,73.02 405.2,73.02" fill="#2222ff"/>
<polygon points="418.74,64.4 420.64,67.82 416.84,67.82" fill="#2222ff"/>
<polygon points="430.38,62.1 432.28,65.52 428.48,65.52" fill="#2222ff"/>
<polygon points="442.02,62.1 443.92,65.52 440.12,65.52" fill="#2222ff"/>
<polygon points="453.66,61.1 455.56,64.52 451.76,64.52" fill="#2222ff"/>
<polygon points="465.3,63.7 467.2,67.12 463.4,67.12" fill="#2222ff"/>
<polyline points="407.1,114.9 418.74,147.7 430.38,145.1 442.02,129.2 453.66,133.6 465.3,133.6" fill="none" stroke="#1a1a1a" stroke-width="1.0" stroke-linejoin="round"/>
<polygon points="407.1,113.3 408.7,114.9 407.1,116.5 405.5,114.9" fill="#1a1a1a"/>
<polygon points="418.74,146.1 420.34,147.7 418.74,149.3 417.14,147.7" fill="#1a1a1a"/>
<polygon points="430.38,143.5 431.98,145.1 430.38,146.7 428.78,145.1" fill="#1a1a1a"/>
<polygon points="442.02,127.6 443.62,129.2 442.02,130.8 440.42,129.2" fill="#1a1a1a"/>
<polygon points="453.66,132 455.26,133.6 453.66,135.2 452.06,133.6" fill="#1a1a1a"/>
<polygon points="465.3,132 466.9,133.6 465.3,135.2 463.7,133.6" fill="#1a1a1a"/>
<polyline points="407.1,117.5 418.74,119.3 430.38,131.4 442.02,138 453.66,137.4 465.3,139.6" fill="none" stroke="#1a1a1a" stroke-width="0.95" stroke-linejoin="round"/>
<path d="M405.6,116L408.6,119M405.6,119L408.6,116" stroke="#1a1a1a" stroke-width="1.0" fill="none"/>
<path d="M417.24,117.8L420.24,120.8M417.24,120.8L420.24,117.8" stroke="#1a1a1a" stroke-width="1.0" fill="none"/>
<path d="M428.88,129.9L431.88,132.9M428.88,132.9L431.88,129.9" stroke="#1a1a1a" stroke-width="1.0" fill="none"/>
<path d="M440.52,136.5L443.52,139.5M440.52,139.5L443.52,136.5" stroke="#1a1a1a" stroke-width="1.0" fill="none"/>
<path d="M452.16,135.9L455.16,138.9M452.16,138.9L455.16,135.9" stroke="#1a1a1a" stroke-width="1.0" fill="none"/>
<path d="M463.8,138.1L466.8,141.1M463.8,141.1L466.8,138.1" stroke="#1a1a1a" stroke-width="1.0" fill="none"/>
<polyline points="407.1,168.2 418.74,168.2 430.38,168.2 442.02,168.2 453.66,168.2 465.3,168.2" fill="none" stroke="#2222ff" stroke-width="1.4" stroke-linejoin="round"/>
<ellipse cx="407.1" cy="168.2" rx="1.9" ry="2.6" fill="none" stroke="#2222ff" stroke-width="0.9"/>
<ellipse cx="418.74" cy="168.2" rx="1.9" ry="2.6" fill="none" stroke="#2222ff" stroke-width="0.9"/>
<ellipse cx="430.38" cy="168.2" rx="1.9" ry="2.6" fill="none" stroke="#2222ff" stroke-width="0.9"/>
<ellipse cx="442.02" cy="168.2" rx="1.9" ry="2.6" fill="none" stroke="#2222ff" stroke-width="0.9"/>
<ellipse cx="453.66" cy="168.2" rx="1.9" ry="2.6" fill="none" stroke="#2222ff" stroke-width="0.9"/>
<ellipse cx="465.3" cy="168.2" rx="1.9" ry="2.6" fill="none" stroke="#2222ff" stroke-width="0.9"/>
<polyline points="407.1,175.5 418.74,175.5 430.38,175.5 442.02,175.5 453.66,175.5 465.3,175.5" fill="none" stroke="#ff1a1a" stroke-width="2.6" stroke-linejoin="round"/>
<circle cx="407.1" cy="175.5" r="1.7" fill="#ff1a1a"/>
<circle cx="418.74" cy="175.5" r="1.7" fill="#ff1a1a"/>
<circle cx="430.38" cy="175.5" r="1.7" fill="#ff1a1a"/>
<circle cx="442.02" cy="175.5" r="1.7" fill="#ff1a1a"/>
<circle cx="453.66" cy="175.5" r="1.7" fill="#ff1a1a"/>
<circle cx="465.3" cy="175.5" r="1.7" fill="#ff1a1a"/>
<polyline points="484.1,46.3 493.8,46.9 500.9,45.6 508.9,48 517.2,49.6 525.3,48.5 533.7,48.5 541.8,46.7" fill="none" stroke="#2222ff" stroke-width="1.05" stroke-linejoin="round"/>
<path d="M482.3,44.5L485.9,48.1M482.3,48.1L485.9,44.5" stroke="#2222ff" stroke-width="1.15" fill="none"/>
<path d="M492,45.1L495.6,48.7M492,48.7L495.6,45.1" stroke="#2222ff" stroke-width="1.15" fill="none"/>
<path d="M499.1,43.8L502.7,47.4M499.1,47.4L502.7,43.8" stroke="#2222ff" stroke-width="1.15" fill="none"/>
<path d="M507.1,46.2L510.7,49.8M507.1,49.8L510.7,46.2" stroke="#2222ff" stroke-width="1.15" fill="none"/>
<path d="M515.4,47.8L519,51.4M515.4,51.4L519,47.8" stroke="#2222ff" stroke-width="1.15" fill="none"/>
<path d="M523.5,46.7L527.1,50.3M523.5,50.3L527.1,46.7" stroke="#2222ff" stroke-width="1.15" fill="none"/>
<path d="M531.9,46.7L535.5,50.3M531.9,50.3L535.5,46.7" stroke="#2222ff" stroke-width="1.15" fill="none"/>
<path d="M540,44.9L543.6,48.5M540,48.5L543.6,44.9" stroke="#2222ff" stroke-width="1.15" fill="none"/>
<polyline points="484.1,72.7 493.8,43.4 500.9,40.1 508.9,47.4 517.2,51.8 525.3,48.9 533.7,40.3 541.8,41.9" fill="none" stroke="#2222ff" stroke-width="1.05" stroke-linejoin="round"/>
<polygon points="484.1,70.8 486,74.22 482.2,74.22" fill="#2222ff"/>
<polygon points="493.8,41.5 495.7,44.92 491.9,44.92" fill="#2222ff"/>
<polygon points="500.9,38.2 502.8,41.62 499,41.62" fill="#2222ff"/>
<polygon points="508.9,45.5 510.8,48.92 507,48.92" fill="#2222ff"/>
<polygon points="517.2,49.9 519.1,53.32 515.3,53.32" fill="#2222ff"/>
<polygon points="525.3,47 527.2,50.42 523.4,50.42" fill="#2222ff"/>
<polygon points="533.7,38.4 535.6,41.82 531.8,41.82" fill="#2222ff"/>
<polygon points="541.8,40 543.7,43.42 539.9,43.42" fill="#2222ff"/>
<polyline points="484.1,105.9 493.8,96.2 500.9,105.4 508.9,101 517.2,106.1 525.3,104.3 533.7,108.3 541.8,128.5" fill="none" stroke="#1a1a1a" stroke-width="1.0" stroke-linejoin="round"/>
<polygon points="484.1,104.3 485.7,105.9 484.1,107.5 482.5,105.9" fill="#1a1a1a"/>
<polygon points="493.8,94.6 495.4,96.2 493.8,97.8 492.2,96.2" fill="#1a1a1a"/>
<polygon points="500.9,103.8 502.5,105.4 500.9,107 499.3,105.4" fill="#1a1a1a"/>
<polygon points="508.9,99.4 510.5,101 508.9,102.6 507.3,101" fill="#1a1a1a"/>
<polygon points="517.2,104.5 518.8,106.1 517.2,107.7 515.6,106.1" fill="#1a1a1a"/>
<polygon points="525.3,102.7 526.9,104.3 525.3,105.9 523.7,104.3" fill="#1a1a1a"/>
<polygon points="533.7,106.7 535.3,108.3 533.7,109.9 532.1,108.3" fill="#1a1a1a"/>
<polygon points="541.8,126.9 543.4,128.5 541.8,130.1 540.2,128.5" fill="#1a1a1a"/>
<polyline points="484.1,116 493.8,99.9 500.9,124.1 508.9,129.6 517.2,125.7 525.3,133.6 533.7,108.7 541.8,130.3" fill="none" stroke="#1a1a1a" stroke-width="0.95" stroke-linejoin="round"/>
<path d="M482.6,114.5L485.6,117.5M482.6,117.5L485.6,114.5" stroke="#1a1a1a" stroke-width="1.0" fill="none"/>
<path d="M492.3,98.4L495.3,101.4M492.3,101.4L495.3,98.4" stroke="#1a1a1a" stroke-width="1.0" fill="none"/>
<path d="M499.4,122.6L502.4,125.6M499.4,125.6L502.4,122.6" stroke="#1a1a1a" stroke-width="1.0" fill="none"/>
<path d="M507.4,128.1L510.4,131.1M507.4,131.1L510.4,128.1" stroke="#1a1a1a" stroke-width="1.0" fill="none"/>
<path d="M515.7,124.2L518.7,127.2M515.7,127.2L518.7,124.2" stroke="#1a1a1a" stroke-width="1.0" fill="none"/>
<path d="M523.8,132.1L526.8,135.1M523.8,135.1L526.8,132.1" stroke="#1a1a1a" stroke-width="1.0" fill="none"/>
<path d="M532.2,107.2L535.2,110.2M532.2,110.2L535.2,107.2" stroke="#1a1a1a" stroke-width="1.0" fill="none"/>
<path d="M540.3,128.8L543.3,131.8M540.3,131.8L543.3,128.8" stroke="#1a1a1a" stroke-width="1.0" fill="none"/>
<polyline points="484.1,153.2 493.8,149.5 500.9,149 508.9,150.1 517.2,151 525.3,149.9 533.7,149.5 541.8,149.5" fill="none" stroke="#2222ff" stroke-width="1.4" stroke-linejoin="round"/>
<ellipse cx="484.1" cy="153.2" rx="1.9" ry="2.6" fill="none" stroke="#2222ff" stroke-width="0.9"/>
<ellipse cx="493.8" cy="149.5" rx="1.9" ry="2.6" fill="none" stroke="#2222ff" stroke-width="0.9"/>
<ellipse cx="500.9" cy="149" rx="1.9" ry="2.6" fill="none" stroke="#2222ff" stroke-width="0.9"/>
<ellipse cx="508.9" cy="150.1" rx="1.9" ry="2.6" fill="none" stroke="#2222ff" stroke-width="0.9"/>
<ellipse cx="517.2" cy="151" rx="1.9" ry="2.6" fill="none" stroke="#2222ff" stroke-width="0.9"/>
<ellipse cx="525.3" cy="149.9" rx="1.9" ry="2.6" fill="none" stroke="#2222ff" stroke-width="0.9"/>
<ellipse cx="533.7" cy="149.5" rx="1.9" ry="2.6" fill="none" stroke="#2222ff" stroke-width="0.9"/>
<ellipse cx="541.8" cy="149.5" rx="1.9" ry="2.6" fill="none" stroke="#2222ff" stroke-width="0.9"/>
<polyline points="484.1,175.5 493.8,175.5 500.9,175.5 508.9,175.5 517.2,175.5 525.3,175.5 533.7,175.5 541.8,175.5" fill="none" stroke="#ff1a1a" stroke-width="2.6" stroke-linejoin="round"/>
<circle cx="484.1" cy="175.5" r="1.7" fill="#ff1a1a"/>
<circle cx="493.8" cy="175.5" r="1.7" fill="#ff1a1a"/>
<circle cx="500.9" cy="175.5" r="1.7" fill="#ff1a1a"/>
<circle cx="508.9" cy="175.5" r="1.7" fill="#ff1a1a"/>
<circle cx="517.2" cy="175.5" r="1.7" fill="#ff1a1a"/>
<circle cx="525.3" cy="175.5" r="1.7" fill="#ff1a1a"/>
<circle cx="533.7" cy="175.5" r="1.7" fill="#ff1a1a"/>
<circle cx="541.8" cy="175.5" r="1.7" fill="#ff1a1a"/>
<path d="M330.4,17.8V179.3H389.6" fill="none" stroke="#b4b4b4" stroke-width="0.7"/>
<rect x="329.4" y="31.2" width="2" height="5.2" fill="#fff"/>
<path d="M330.6,31 L333.4,33 L327.4,34.9 L330.2,36.7" stroke="#555" stroke-width="0.85" fill="none" stroke-linejoin="round"/>
<rect x="329.4" y="47.1" width="2" height="5.2" fill="#fff"/>
<path d="M330.6,46.9 L333.4,48.9 L327.4,50.8 L330.2,52.6" stroke="#555" stroke-width="0.85" fill="none" stroke-linejoin="round"/>
<rect x="329.4" y="63.8" width="2" height="5.2" fill="#fff"/>
<path d="M330.6,63.6 L333.4,65.6 L327.4,67.5 L330.2,69.3" stroke="#555" stroke-width="0.85" fill="none" stroke-linejoin="round"/>
<rect x="329.4" y="83.1" width="2" height="5.2" fill="#fff"/>
<path d="M330.6,82.9 L333.4,84.9 L327.4,86.8 L330.2,88.6" stroke="#555" stroke-width="0.85" fill="none" stroke-linejoin="round"/>
<text transform="translate(360,6.2) scale(0.56,1)" y="2.09" font-size="5.8" text-anchor="middle" font-weight="bold" fill="#111" stroke="#111" stroke-width="0.12" letter-spacing="0.36">Channel utilization variation with speed</text>
<text transform="translate(360,12.8) scale(0.56,1)" y="2.09" font-size="5.8" text-anchor="middle" font-weight="bold" fill="#111" stroke="#111" stroke-width="0.12" letter-spacing="0.36">for an urban mobility scenario</text>
<text transform="translate(328.8,25.7) scale(0.655,1)" y="2.27" font-size="6.3" text-anchor="end" fill="#3a3a3a" stroke="#3a3a3a" stroke-width="0.1">100</text>
<text transform="translate(328.8,42.6) scale(0.655,1)" y="2.27" font-size="6.3" text-anchor="end" fill="#3a3a3a" stroke="#3a3a3a" stroke-width="0.1">80</text>
<text transform="translate(328.8,57.4) scale(0.655,1)" y="2.27" font-size="6.3" text-anchor="end" fill="#3a3a3a" stroke="#3a3a3a" stroke-width="0.1">60</text>
<text transform="translate(328.8,73.6) scale(0.655,1)" y="2.27" font-size="6.3" text-anchor="end" fill="#3a3a3a" stroke="#3a3a3a" stroke-width="0.1">40</text>
<text transform="translate(328.8,97.2) scale(0.655,1)" y="2.27" font-size="6.3" text-anchor="end" fill="#3a3a3a" stroke="#3a3a3a" stroke-width="0.1">10</text>
<text transform="translate(328.8,137.2) scale(0.655,1)" y="2.27" font-size="6.3" text-anchor="end" fill="#3a3a3a" stroke="#3a3a3a" stroke-width="0.1">5</text>
<text transform="translate(328.8,177.1) scale(0.655,1)" y="2.27" font-size="6.3" text-anchor="end" fill="#3a3a3a" stroke="#3a3a3a" stroke-width="0.1">0</text>
<text transform="translate(330.4,186.8) scale(0.655,1)" y="2.27" font-size="6.3" text-anchor="middle" fill="#444" stroke="#444" stroke-width="0.1">0</text>
<text transform="translate(340.27,186.8) scale(0.655,1)" y="2.27" font-size="6.3" text-anchor="middle" fill="#444" stroke="#444" stroke-width="0.1">10</text>
<text transform="translate(350.13,186.8) scale(0.655,1)" y="2.27" font-size="6.3" text-anchor="middle" fill="#444" stroke="#444" stroke-width="0.1">20</text>
<text transform="translate(360,186.8) scale(0.655,1)" y="2.27" font-size="6.3" text-anchor="middle" fill="#444" stroke="#444" stroke-width="0.1">30</text>
<text transform="translate(369.87,186.8) scale(0.655,1)" y="2.27" font-size="6.3" text-anchor="middle" fill="#444" stroke="#444" stroke-width="0.1">40</text>
<text transform="translate(379.73,186.8) scale(0.655,1)" y="2.27" font-size="6.3" text-anchor="middle" fill="#444" stroke="#444" stroke-width="0.1">50</text>
<text transform="translate(389.6,186.8) scale(0.655,1)" y="2.27" font-size="6.3" text-anchor="middle" fill="#444" stroke="#444" stroke-width="0.1">60</text>
<text transform="translate(360,195.6) scale(0.73,1)" y="2.12" font-size="5.9" text-anchor="middle" fill="#262626" stroke="#262626" stroke-width="0.18">Speed (km/h)</text>
<text transform="translate(319.3,98.6) scale(0.72,1) rotate(-90)" y="2.34" font-size="6.5" text-anchor="middle" fill="#4a4a4a" stroke="#4a4a4a" stroke-width="0.05">Channel Utilization (%)</text>
<path d="M407.1,17.8V179.3H465.3" fill="none" stroke="#b4b4b4" stroke-width="0.7"/>
<rect x="406.1" y="31.2" width="2" height="5.2" fill="#fff"/>
<path d="M407.3,31 L410.1,33 L404.1,34.9 L406.9,36.7" stroke="#555" stroke-width="0.85" fill="none" stroke-linejoin="round"/>
<rect x="406.1" y="47.1" width="2" height="5.2" fill="#fff"/>
<path d="M407.3,46.9 L410.1,48.9 L404.1,50.8 L406.9,52.6" stroke="#555" stroke-width="0.85" fill="none" stroke-linejoin="round"/>
<rect x="406.1" y="63.8" width="2" height="5.2" fill="#fff"/>
<path d="M407.3,63.6 L410.1,65.6 L404.1,67.5 L406.9,69.3" stroke="#555" stroke-width="0.85" fill="none" stroke-linejoin="round"/>
<rect x="406.1" y="83.1" width="2" height="5.2" fill="#fff"/>
<path d="M407.3,82.9 L410.1,84.9 L404.1,86.8 L406.9,88.6" stroke="#555" stroke-width="0.85" fill="none" stroke-linejoin="round"/>
<text transform="translate(436.2,6.2) scale(0.56,1)" y="2.09" font-size="5.8" text-anchor="middle" font-weight="bold" fill="#111" stroke="#111" stroke-width="0.12" letter-spacing="0.36">Channel utilization variation with speed</text>
<text transform="translate(436.2,12.8) scale(0.56,1)" y="2.09" font-size="5.8" text-anchor="middle" font-weight="bold" fill="#111" stroke="#111" stroke-width="0.12" letter-spacing="0.36">for a rural mobility scenario</text>
<text transform="translate(405.5,25.7) scale(0.655,1)" y="2.27" font-size="6.3" text-anchor="end" fill="#3a3a3a" stroke="#3a3a3a" stroke-width="0.1">100</text>
<text transform="translate(405.5,42.6) scale(0.655,1)" y="2.27" font-size="6.3" text-anchor="end" fill="#3a3a3a" stroke="#3a3a3a" stroke-width="0.1">80</text>
<text transform="translate(405.5,57.4) scale(0.655,1)" y="2.27" font-size="6.3" text-anchor="end" fill="#3a3a3a" stroke="#3a3a3a" stroke-width="0.1">60</text>
<text transform="translate(405.5,73.6) scale(0.655,1)" y="2.27" font-size="6.3" text-anchor="end" fill="#3a3a3a" stroke="#3a3a3a" stroke-width="0.1">40</text>
<text transform="translate(405.5,97.2) scale(0.655,1)" y="2.27" font-size="6.3" text-anchor="end" fill="#3a3a3a" stroke="#3a3a3a" stroke-width="0.1">10</text>
<text transform="translate(405.5,137.2) scale(0.655,1)" y="2.27" font-size="6.3" text-anchor="end" fill="#3a3a3a" stroke="#3a3a3a" stroke-width="0.1">5</text>
<text transform="translate(405.5,177.1) scale(0.655,1)" y="2.27" font-size="6.3" text-anchor="end" fill="#3a3a3a" stroke="#3a3a3a" stroke-width="0.1">0</text>
<text transform="translate(409.3,185.6) scale(0.655,1) rotate(-45)" y="2.27" font-size="6.3" text-anchor="end" fill="#444" stroke="#444" stroke-width="0.1">0</text>
<text transform="translate(420.94,185.6) scale(0.655,1) rotate(-45)" y="2.27" font-size="6.3" text-anchor="end" fill="#444" stroke="#444" stroke-width="0.1">20</text>
<text transform="translate(432.58,185.6) scale(0.655,1) rotate(-45)" y="2.27" font-size="6.3" text-anchor="end" fill="#444" stroke="#444" stroke-width="0.1">40</text>
<text transform="translate(444.22,185.6) scale(0.655,1) rotate(-45)" y="2.27" font-size="6.3" text-anchor="end" fill="#444" stroke="#444" stroke-width="0.1">60</text>
<text transform="translate(455.86,185.6) scale(0.655,1) rotate(-45)" y="2.27" font-size="6.3" text-anchor="end" fill="#444" stroke="#444" stroke-width="0.1">80</text>
<text transform="translate(467.5,185.6) scale(0.655,1) rotate(-45)" y="2.27" font-size="6.3" text-anchor="end" fill="#444" stroke="#444" stroke-width="0.1">100</text>
<text transform="translate(436.2,201.3) scale(0.73,1)" y="2.12" font-size="5.9" text-anchor="middle" fill="#262626" stroke="#262626" stroke-width="0.18">Speed (km/h)</text>
<text transform="translate(396,98.6) scale(0.72,1) rotate(-90)" y="2.34" font-size="6.5" text-anchor="middle" fill="#4a4a4a" stroke="#4a4a4a" stroke-width="0.05">Channel Utilization (%)</text>
<path d="M484.1,17.8V179.3H541.8" fill="none" stroke="#b4b4b4" stroke-width="0.7"/>
<rect x="483.1" y="31.2" width="2" height="5.2" fill="#fff"/>
<path d="M484.3,31 L487.1,33 L481.1,34.9 L483.9,36.7" stroke="#555" stroke-width="0.85" fill="none" stroke-linejoin="round"/>
<rect x="483.1" y="47.1" width="2" height="5.2" fill="#fff"/>
<path d="M484.3,46.9 L487.1,48.9 L481.1,50.8 L483.9,52.6" stroke="#555" stroke-width="0.85" fill="none" stroke-linejoin="round"/>
<rect x="483.1" y="63.8" width="2" height="5.2" fill="#fff"/>
<path d="M484.3,63.6 L487.1,65.6 L481.1,67.5 L483.9,69.3" stroke="#555" stroke-width="0.85" fill="none" stroke-linejoin="round"/>
<rect x="483.1" y="83.1" width="2" height="5.2" fill="#fff"/>
<path d="M484.3,82.9 L487.1,84.9 L481.1,86.8 L483.9,88.6" stroke="#555" stroke-width="0.85" fill="none" stroke-linejoin="round"/>
<path d="M501.9,179.3 L503.7,178.6 L505.7,181.3 L507.5,179.3" stroke="#6a6a6a" stroke-width="0.8" fill="none" stroke-linejoin="round"/>
<path d="M510.05,179.3 L511.85,178.6 L513.85,181.3 L515.65,179.3" stroke="#6a6a6a" stroke-width="0.8" fill="none" stroke-linejoin="round"/>
<path d="M518.25,179.3 L520.05,178.6 L522.05,181.3 L523.85,179.3" stroke="#6a6a6a" stroke-width="0.8" fill="none" stroke-linejoin="round"/>
<path d="M526.5,179.3 L528.3,178.6 L530.3,181.3 L532.1,179.3" stroke="#6a6a6a" stroke-width="0.8" fill="none" stroke-linejoin="round"/>
<path d="M534.75,179.3 L536.55,178.6 L538.55,181.3 L540.35,179.3" stroke="#6a6a6a" stroke-width="0.8" fill="none" stroke-linejoin="round"/>
<text transform="translate(512.95,6.2) scale(0.56,1)" y="2.09" font-size="5.8" text-anchor="middle" font-weight="bold" fill="#111" stroke="#111" stroke-width="0.12" letter-spacing="0.36">Channel utilization variation with speed</text>
<text transform="translate(512.95,12.8) scale(0.56,1)" y="2.09" font-size="5.8" text-anchor="middle" font-weight="bold" fill="#111" stroke="#111" stroke-width="0.12" letter-spacing="0.36">for an autobahn mobility scenario</text>
<text transform="translate(482.5,25.7) scale(0.655,1)" y="2.27" font-size="6.3" text-anchor="end" fill="#3a3a3a" stroke="#3a3a3a" stroke-width="0.1">100</text>
<text transform="translate(482.5,42.6) scale(0.655,1)" y="2.27" font-size="6.3" text-anchor="end" fill="#3a3a3a" stroke="#3a3a3a" stroke-width="0.1">80</text>
<text transform="translate(482.5,57.4) scale(0.655,1)" y="2.27" font-size="6.3" text-anchor="end" fill="#3a3a3a" stroke="#3a3a3a" stroke-width="0.1">60</text>
<text transform="translate(482.5,73.6) scale(0.655,1)" y="2.27" font-size="6.3" text-anchor="end" fill="#3a3a3a" stroke="#3a3a3a" stroke-width="0.1">40</text>
<text transform="translate(482.5,97.2) scale(0.655,1)" y="2.27" font-size="6.3" text-anchor="end" fill="#3a3a3a" stroke="#3a3a3a" stroke-width="0.1">10</text>
<text transform="translate(482.5,137.2) scale(0.655,1)" y="2.27" font-size="6.3" text-anchor="end" fill="#3a3a3a" stroke="#3a3a3a" stroke-width="0.1">5</text>
<text transform="translate(482.5,177.1) scale(0.655,1)" y="2.27" font-size="6.3" text-anchor="end" fill="#3a3a3a" stroke="#3a3a3a" stroke-width="0.1">0</text>
<text transform="translate(486.3,185.6) scale(0.655,1) rotate(-45)" y="2.27" font-size="6.3" text-anchor="end" fill="#444" stroke="#444" stroke-width="0.1">0</text>
<text transform="translate(496,185.6) scale(0.655,1) rotate(-45)" y="2.27" font-size="6.3" text-anchor="end" fill="#444" stroke="#444" stroke-width="0.1">25</text>
<text transform="translate(503.1,185.6) scale(0.655,1) rotate(-45)" y="2.27" font-size="6.3" text-anchor="end" fill="#444" stroke="#444" stroke-width="0.1">50</text>
<text transform="translate(511.1,185.6) scale(0.655,1) rotate(-45)" y="2.27" font-size="6.3" text-anchor="end" fill="#444" stroke="#444" stroke-width="0.1">80</text>
<text transform="translate(519.4,185.6) scale(0.655,1) rotate(-45)" y="2.27" font-size="6.3" text-anchor="end" fill="#444" stroke="#444" stroke-width="0.1">120</text>
<text transform="translate(527.5,185.6) scale(0.655,1) rotate(-45)" y="2.27" font-size="6.3" text-anchor="end" fill="#444" stroke="#444" stroke-width="0.1">170</text>
<text transform="translate(535.9,185.6) scale(0.655,1) rotate(-45)" y="2.27" font-size="6.3" text-anchor="end" fill="#444" stroke="#444" stroke-width="0.1">210</text>
<text transform="translate(544,185.6) scale(0.655,1) rotate(-45)" y="2.27" font-size="6.3" text-anchor="end" fill="#444" stroke="#444" stroke-width="0.1">250</text>
<text transform="translate(512.95,201.3) scale(0.73,1)" y="2.12" font-size="5.9" text-anchor="middle" fill="#262626" stroke="#262626" stroke-width="0.18">Speed (km/h)</text>
<text transform="translate(473,98.6) scale(0.72,1) rotate(-90)" y="2.34" font-size="6.5" text-anchor="middle" fill="#4a4a4a" stroke="#4a4a4a" stroke-width="0.05">Channel Utilization (%)</text>
<rect x="331.1" y="95.7" width="56.5" height="17.8" fill="#fff" stroke="#b4b4b4" stroke-width="0.6"/>
<line x1="332.1" y1="98.9" x2="338.8" y2="98.9" stroke="#1a1a1a" stroke-width="1"/>
<path d="M334.05,97.5L336.85,100.3M334.05,100.3L336.85,97.5M333.77,98.9L337.13,98.9" stroke="#1a1a1a" stroke-width="0.8" fill="none"/>
<text transform="translate(339.6,98.9) scale(0.64,1)" y="1.66" font-size="4.6" text-anchor="start" fill="#202020" stroke="#202020" stroke-width="0.05">Proposed routing LTE utilization</text>
<line x1="332.1" y1="104.6" x2="338.8" y2="104.6" stroke="#2222ff" stroke-width="1"/>
<path d="M334.05,103.2L336.85,106M334.05,106L336.85,103.2M333.77,104.6L337.13,104.6" stroke="#2222ff" stroke-width="0.8" fill="none"/>
<text transform="translate(339.6,104.6) scale(0.64,1)" y="1.66" font-size="4.6" text-anchor="start" fill="#202020" stroke="#202020" stroke-width="0.05">Proposed routing DSRC utilization</text>
<line x1="332.1" y1="110.1" x2="338.8" y2="110.1" stroke="#ff1a1a" stroke-width="1"/>
<path d="M334.05,108.7L336.85,111.5M334.05,111.5L336.85,108.7M333.77,110.1L337.13,110.1" stroke="#ff1a1a" stroke-width="0.8" fill="none"/>
<text transform="translate(339.6,110.1) scale(0.64,1)" y="1.66" font-size="4.6" text-anchor="start" fill="#202020" stroke="#202020" stroke-width="0.05">Proposed routing ethernet utilization</text>
<rect x="417.6" y="28.2" width="43.6" height="18.9" fill="#fff" stroke="#b4b4b4" stroke-width="0.6"/>
<line x1="418.6" y1="32.6" x2="425.1" y2="32.6" stroke="#1a1a1a" stroke-width="1"/>
<path d="M420.45,31.2L423.25,34M420.45,34L423.25,31.2M420.17,32.6L423.53,32.6" stroke="#1a1a1a" stroke-width="0.8" fill="none"/>
<text transform="translate(425.9,32.6) scale(0.64,1)" y="1.66" font-size="4.6" text-anchor="start" fill="#202020" stroke="#202020" stroke-width="0.05">Dijkstra LTE utilization</text>
<line x1="418.6" y1="38.2" x2="425.1" y2="38.2" stroke="#2222ff" stroke-width="1"/>
<ellipse cx="421.85" cy="38.2" rx="1.12" ry="1.68" fill="none" stroke="#2222ff" stroke-width="0.8"/>
<text transform="translate(425.9,38.2) scale(0.64,1)" y="1.66" font-size="4.6" text-anchor="start" fill="#202020" stroke="#202020" stroke-width="0.05">Dijkstra DSRC utilization</text>
<line x1="418.6" y1="43.8" x2="425.1" y2="43.8" stroke="#ff1a1a" stroke-width="1"/>
<path d="M420.45,42.4L423.25,45.2M420.45,45.2L423.25,42.4M420.17,43.8L423.53,43.8" stroke="#ff1a1a" stroke-width="0.8" fill="none"/>
<text transform="translate(425.9,43.8) scale(0.64,1)" y="1.66" font-size="4.6" text-anchor="start" fill="#202020" stroke="#202020" stroke-width="0.05">Dijkstra ethernet utilization</text>
<rect x="492.5" y="67.8" width="43" height="18.5" fill="#fff" stroke="#b4b4b4" stroke-width="0.6"/>
<line x1="493.5" y1="71" x2="500.7" y2="71" stroke="#1a1a1a" stroke-width="1"/>
<path d="M495.7,69.6L498.5,72.4M495.7,72.4L498.5,69.6M495.42,71L498.78,71" stroke="#1a1a1a" stroke-width="0.8" fill="none"/>
<text transform="translate(501.5,71) scale(0.64,1)" y="1.66" font-size="4.6" text-anchor="start" fill="#202020" stroke="#202020" stroke-width="0.05">AODV LTE utilization</text>
<line x1="493.5" y1="77" x2="500.7" y2="77" stroke="#2222ff" stroke-width="1"/>
<polygon points="497.1,75.6 498.5,78.12 495.7,78.12" fill="#2222ff"/>
<text transform="translate(501.5,77) scale(0.64,1)" y="1.66" font-size="4.6" text-anchor="start" fill="#202020" stroke="#202020" stroke-width="0.05">AODV DSRC utilization</text>
<line x1="493.5" y1="82.8" x2="500.7" y2="82.8" stroke="#ff1a1a" stroke-width="1"/>
<path d="M495.7,81.4L498.5,84.2M495.7,84.2L498.5,81.4M495.42,82.8L498.78,82.8" stroke="#ff1a1a" stroke-width="0.8" fill="none"/>
<text transform="translate(501.5,82.8) scale(0.64,1)" y="1.66" font-size="4.6" text-anchor="start" fill="#202020" stroke="#202020" stroke-width="0.05">AODV ethernet utilization</text>
<text x="430.5" y="221.7" font-size="11.2" text-anchor="middle" font-family="Liberation Serif, serif" fill="#111" letter-spacing="0"><tspan fill="#333">(</tspan><tspan font-weight="bold" stroke="#111" stroke-width="0.15">b</tspan><tspan fill="#333">)</tspan></text>
<line x1="19.8" y1="244.3" x2="19.8" y2="407" stroke="#ececec" stroke-width="0.6"/>
<line x1="29.42" y1="244.3" x2="29.42" y2="407" stroke="#ececec" stroke-width="0.6"/>
<line x1="39.03" y1="244.3" x2="39.03" y2="407" stroke="#ececec" stroke-width="0.6"/>
<line x1="48.65" y1="244.3" x2="48.65" y2="407" stroke="#ececec" stroke-width="0.6"/>
<line x1="58.27" y1="244.3" x2="58.27" y2="407" stroke="#ececec" stroke-width="0.6"/>
<line x1="67.88" y1="244.3" x2="67.88" y2="407" stroke="#ececec" stroke-width="0.6"/>
<line x1="77.5" y1="244.3" x2="77.5" y2="407" stroke="#ececec" stroke-width="0.6"/>
<line x1="19.8" y1="406.9" x2="77.5" y2="406.9" stroke="#ececec" stroke-width="0.6"/>
<line x1="19.8" y1="381.95" x2="77.5" y2="381.95" stroke="#ececec" stroke-width="0.6"/>
<line x1="19.8" y1="357" x2="77.5" y2="357" stroke="#ececec" stroke-width="0.6"/>
<line x1="19.8" y1="332.05" x2="77.5" y2="332.05" stroke="#ececec" stroke-width="0.6"/>
<line x1="19.8" y1="307.1" x2="77.5" y2="307.1" stroke="#ececec" stroke-width="0.6"/>
<line x1="19.8" y1="282.15" x2="77.5" y2="282.15" stroke="#ececec" stroke-width="0.6"/>
<line x1="19.8" y1="257.2" x2="77.5" y2="257.2" stroke="#ececec" stroke-width="0.6"/>
<line x1="97.3" y1="244.3" x2="97.3" y2="407" stroke="#ececec" stroke-width="0.6"/>
<line x1="108.8" y1="244.3" x2="108.8" y2="407" stroke="#ececec" stroke-width="0.6"/>
<line x1="120.3" y1="244.3" x2="120.3" y2="407" stroke="#ececec" stroke-width="0.6"/>
<line x1="131.8" y1="244.3" x2="131.8" y2="407" stroke="#ececec" stroke-width="0.6"/>
<line x1="143.3" y1="244.3" x2="143.3" y2="407" stroke="#ececec" stroke-width="0.6"/>
<line x1="154.8" y1="244.3" x2="154.8" y2="407" stroke="#ececec" stroke-width="0.6"/>
<line x1="97.3" y1="406.9" x2="154.8" y2="406.9" stroke="#ececec" stroke-width="0.6"/>
<line x1="97.3" y1="381.95" x2="154.8" y2="381.95" stroke="#ececec" stroke-width="0.6"/>
<line x1="97.3" y1="357" x2="154.8" y2="357" stroke="#ececec" stroke-width="0.6"/>
<line x1="97.3" y1="332.05" x2="154.8" y2="332.05" stroke="#ececec" stroke-width="0.6"/>
<line x1="97.3" y1="307.1" x2="154.8" y2="307.1" stroke="#ececec" stroke-width="0.6"/>
<line x1="97.3" y1="282.15" x2="154.8" y2="282.15" stroke="#ececec" stroke-width="0.6"/>
<line x1="97.3" y1="257.2" x2="154.8" y2="257.2" stroke="#ececec" stroke-width="0.6"/>
<line x1="174.3" y1="244.3" x2="174.3" y2="407" stroke="#ececec" stroke-width="0.6"/>
<line x1="183.8" y1="244.3" x2="183.8" y2="407" stroke="#ececec" stroke-width="0.6"/>
<line x1="190.8" y1="244.3" x2="190.8" y2="407" stroke="#ececec" stroke-width="0.6"/>
<line x1="199.2" y1="244.3" x2="199.2" y2="407" stroke="#ececec" stroke-width="0.6"/>
<line x1="207.4" y1="244.3" x2="207.4" y2="407" stroke="#ececec" stroke-width="0.6"/>
<line x1="216.2" y1="244.3" x2="216.2" y2="407" stroke="#ececec" stroke-width="0.6"/>
<line x1="223.9" y1="244.3" x2="223.9" y2="407" stroke="#ececec" stroke-width="0.6"/>
<line x1="232.5" y1="244.3" x2="232.5" y2="407" stroke="#ececec" stroke-width="0.6"/>
<line x1="174.3" y1="406.9" x2="232.5" y2="406.9" stroke="#ececec" stroke-width="0.6"/>
<line x1="174.3" y1="381.95" x2="232.5" y2="381.95" stroke="#ececec" stroke-width="0.6"/>
<line x1="174.3" y1="357" x2="232.5" y2="357" stroke="#ececec" stroke-width="0.6"/>
<line x1="174.3" y1="332.05" x2="232.5" y2="332.05" stroke="#ececec" stroke-width="0.6"/>
<line x1="174.3" y1="307.1" x2="232.5" y2="307.1" stroke="#ececec" stroke-width="0.6"/>
<line x1="174.3" y1="282.15" x2="232.5" y2="282.15" stroke="#ececec" stroke-width="0.6"/>
<line x1="174.3" y1="257.2" x2="232.5" y2="257.2" stroke="#ececec" stroke-width="0.6"/>
<clipPath id="cc0"><rect x="19.8" y="244.3" width="57.7" height="162.7"/></clipPath>
<clipPath id="cc1"><rect x="97.3" y="244.3" width="57.5" height="162.7"/></clipPath>
<clipPath id="cc2"><rect x="174.3" y="244.3" width="58.2" height="162.7"/></clipPath>
<polygon points="19.8,267.7 29.42,286.5 39.03,249 48.65,272.2 58.27,273.3 67.88,286 77.5,273.3 77.5,316.5 67.88,326.4 58.27,326.4 48.65,321 39.03,300 29.42,329.7 19.8,319.8" fill="#fff" clip-path="url(#cc0)"/>
<polygon points="19.8,333.4 29.42,334 39.03,331.7 48.65,332.6 58.27,331.5 67.88,334.3 77.5,333.2 77.5,341.2 67.88,342.3 58.27,339.5 48.65,340.6 39.03,339.7 29.42,342 19.8,341.4" fill="#fff" clip-path="url(#cc0)"/>
<polygon points="19.8,365 29.42,351.5 39.03,348 48.65,356 58.27,356.5 67.88,345.5 77.5,343 77.5,357 67.88,359 58.27,371 48.65,372 39.03,361 29.42,365 19.8,374.5" fill="#fff" clip-path="url(#cc0)"/>
<polygon points="19.8,267.7 29.42,286.5 39.03,249 48.65,272.2 58.27,273.3 67.88,286 77.5,273.3 77.5,316.5 67.88,326.4 58.27,326.4 48.65,321 39.03,300 29.42,329.7 19.8,319.8" fill="#ff00ff" fill-opacity="0.2" clip-path="url(#cc0)"/>
<polygon points="19.8,333.4 29.42,334 39.03,331.7 48.65,332.6 58.27,331.5 67.88,334.3 77.5,333.2 77.5,341.2 67.88,342.3 58.27,339.5 48.65,340.6 39.03,339.7 29.42,342 19.8,341.4" fill="#ff0000" fill-opacity="0.2" clip-path="url(#cc0)"/>
<polygon points="19.8,365 29.42,351.5 39.03,348 48.65,356 58.27,356.5 67.88,345.5 77.5,343 77.5,357 67.88,359 58.27,371 48.65,372 39.03,361 29.42,365 19.8,374.5" fill="#0000ff" fill-opacity="0.2" clip-path="url(#cc0)"/>
<polyline points="19.8,292.4 29.42,309.6 39.03,272.6 48.65,290.9 58.27,300.1 67.88,306.3 77.5,293.7" fill="none" stroke="#ff00ff" stroke-width="0.95" stroke-linejoin="round"/>
<polygon points="19.8,290.8 21.4,293.68 18.2,293.68" fill="#ff00ff"/>
<polygon points="29.42,308 31.02,310.88 27.82,310.88" fill="#ff00ff"/>
<polygon points="39.03,271 40.63,273.88 37.43,273.88" fill="#ff00ff"/>
<polygon points="48.65,289.3 50.25,292.18 47.05,292.18" fill="#ff00ff"/>
<polygon points="58.27,298.5 59.87,301.38 56.67,301.38" fill="#ff00ff"/>
<polygon points="67.88,304.7 69.48,307.58 66.28,307.58" fill="#ff00ff"/>
<polygon points="77.5,292.1 79.1,294.98 75.9,294.98" fill="#ff00ff"/>
<polyline points="19.8,337.4 29.42,338 39.03,335.7 48.65,336.6 58.27,335.5 67.88,338.3 77.5,337.2" fill="none" stroke="#ff1a1a" stroke-width="0.95" stroke-linejoin="round"/>
<circle cx="19.8" cy="337.4" r="1.45" fill="#ff1a1a"/>
<circle cx="29.42" cy="338" r="1.45" fill="#ff1a1a"/>
<circle cx="39.03" cy="335.7" r="1.45" fill="#ff1a1a"/>
<circle cx="48.65" cy="336.6" r="1.45" fill="#ff1a1a"/>
<circle cx="58.27" cy="335.5" r="1.45" fill="#ff1a1a"/>
<circle cx="67.88" cy="338.3" r="1.45" fill="#ff1a1a"/>
<circle cx="77.5" cy="337.2" r="1.45" fill="#ff1a1a"/>
<polyline points="19.8,370 29.42,358.4 39.03,354.6 48.65,364.5 58.27,363.9 67.88,352.4 77.5,350.2" fill="none" stroke="#2222ff" stroke-width="0.95" stroke-linejoin="round"/>
<path d="M18.2,368.4L21.4,371.6M18.2,371.6L21.4,368.4" stroke="#2222ff" stroke-width="1.05" fill="none"/>
<path d="M27.82,356.8L31.02,360M27.82,360L31.02,356.8" stroke="#2222ff" stroke-width="1.05" fill="none"/>
<path d="M37.43,353L40.63,356.2M37.43,356.2L40.63,353" stroke="#2222ff" stroke-width="1.05" fill="none"/>
<path d="M47.05,362.9L50.25,366.1M47.05,366.1L50.25,362.9" stroke="#2222ff" stroke-width="1.05" fill="none"/>
<path d="M56.67,362.3L59.87,365.5M56.67,365.5L59.87,362.3" stroke="#2222ff" stroke-width="1.05" fill="none"/>
<path d="M66.28,350.8L69.48,354M66.28,354L69.48,350.8" stroke="#2222ff" stroke-width="1.05" fill="none"/>
<path d="M75.9,348.6L79.1,351.8M75.9,351.8L79.1,348.6" stroke="#2222ff" stroke-width="1.05" fill="none"/>
<polygon points="97.3,333.2 108.8,330 120.3,328.5 131.8,329.5 143.3,329 154.8,330 154.8,346.4 143.3,346 131.8,346.5 120.3,346 108.8,347 97.3,348.6" fill="#fff" clip-path="url(#cc1)"/>
<polygon points="97.3,355.4 108.8,355.4 120.3,355.4 131.8,355.4 143.3,355.4 154.8,355.4 154.8,359.4 143.3,359.4 131.8,359.4 120.3,359.4 108.8,359.4 97.3,359.4" fill="#fff" clip-path="url(#cc1)"/>
<polygon points="97.3,380.2 108.8,379.1 120.3,379.5 131.8,380 143.3,380.2 154.8,379.7 154.8,382.7 143.3,383.2 131.8,383 120.3,382.5 108.8,382.1 97.3,383.2" fill="#fff" clip-path="url(#cc1)"/>
<polygon points="97.3,333.2 108.8,330 120.3,328.5 131.8,329.5 143.3,329 154.8,330 154.8,346.4 143.3,346 131.8,346.5 120.3,346 108.8,347 97.3,348.6" fill="#ff00ff" fill-opacity="0.2" clip-path="url(#cc1)"/>
<polygon points="97.3,355.4 108.8,355.4 120.3,355.4 131.8,355.4 143.3,355.4 154.8,355.4 154.8,359.4 143.3,359.4 131.8,359.4 120.3,359.4 108.8,359.4 97.3,359.4" fill="#ff0000" fill-opacity="0.2" clip-path="url(#cc1)"/>
<polygon points="97.3,380.2 108.8,379.1 120.3,379.5 131.8,380 143.3,380.2 154.8,379.7 154.8,382.7 143.3,383.2 131.8,383 120.3,382.5 108.8,382.1 97.3,383.2" fill="#0000ff" fill-opacity="0.2" clip-path="url(#cc1)"/>
<polyline points="97.3,341.4 108.8,339.4 120.3,338 131.8,339.2 143.3,337.6 154.8,338.7" fill="none" stroke="#ff00ff" stroke-width="0.95" stroke-linejoin="round"/>
<polygon points="97.3,339.8 98.9,342.68 95.7,342.68" fill="#ff00ff"/>
<polygon points="108.8,337.8 110.4,340.68 107.2,340.68" fill="#ff00ff"/>
<polygon points="120.3,336.4 121.9,339.28 118.7,339.28" fill="#ff00ff"/>
<polygon points="131.8,337.6 133.4,340.48 130.2,340.48" fill="#ff00ff"/>
<polygon points="143.3,336 144.9,338.88 141.7,338.88" fill="#ff00ff"/>
<polygon points="154.8,337.1 156.4,339.98 153.2,339.98" fill="#ff00ff"/>
<polyline points="97.3,357.4 108.8,357.4 120.3,357.4 131.8,357.4 143.3,357.4 154.8,357.4" fill="none" stroke="#ff1a1a" stroke-width="0.95" stroke-linejoin="round"/>
<circle cx="97.3" cy="357.4" r="1.45" fill="#ff1a1a"/>
<circle cx="108.8" cy="357.4" r="1.45" fill="#ff1a1a"/>
<circle cx="120.3" cy="357.4" r="1.45" fill="#ff1a1a"/>
<circle cx="131.8" cy="357.4" r="1.45" fill="#ff1a1a"/>
<circle cx="143.3" cy="357.4" r="1.45" fill="#ff1a1a"/>
<circle cx="154.8" cy="357.4" r="1.45" fill="#ff1a1a"/>
<polyline points="97.3,381.7 108.8,380.6 120.3,381 131.8,381.5 143.3,381.7 154.8,381.2" fill="none" stroke="#2222ff" stroke-width="0.95" stroke-linejoin="round"/>
<path d="M95.7,380.1L98.9,383.3M95.7,383.3L98.9,380.1" stroke="#2222ff" stroke-width="1.05" fill="none"/>
<path d="M107.2,379L110.4,382.2M107.2,382.2L110.4,379" stroke="#2222ff" stroke-width="1.05" fill="none"/>
<path d="M118.7,379.4L121.9,382.6M118.7,382.6L121.9,379.4" stroke="#2222ff" stroke-width="1.05" fill="none"/>
<path d="M130.2,379.9L133.4,383.1M130.2,383.1L133.4,379.9" stroke="#2222ff" stroke-width="1.05" fill="none"/>
<path d="M141.7,380.1L144.9,383.3M141.7,383.3L144.9,380.1" stroke="#2222ff" stroke-width="1.05" fill="none"/>
<path d="M153.2,379.6L156.4,382.8M153.2,382.8L156.4,379.6" stroke="#2222ff" stroke-width="1.05" fill="none"/>
<polygon points="174.3,290.9 183.8,255.2 190.8,281 199.2,252.3 207.4,267.7 216.2,230 223.9,230 232.5,230 232.5,316.5 223.9,315 216.2,321 207.4,339.5 199.2,339 190.8,338 183.8,335.5 174.3,333" fill="#fff" clip-path="url(#cc2)"/>
<polygon points="174.3,327 183.8,329 190.8,329 199.2,328.5 207.4,326.5 216.2,323.5 223.9,323.5 232.5,323.5 232.5,334.5 223.9,334.5 216.2,334 207.4,331 199.2,332 190.8,332.6 183.8,332.6 174.3,331" fill="#fff" clip-path="url(#cc2)"/>
<polygon points="174.3,341 183.8,337 190.8,333 199.2,345 207.4,344.5 216.2,345 223.9,345.5 232.5,346.5 232.5,363.9 223.9,362 216.2,362 207.4,361 199.2,359.5 190.8,345 183.8,346 174.3,347.4" fill="#fff" clip-path="url(#cc2)"/>
<polygon points="174.3,290.9 183.8,255.2 190.8,281 199.2,252.3 207.4,267.7 216.2,230 223.9,230 232.5,230 232.5,316.5 223.9,315 216.2,321 207.4,339.5 199.2,339 190.8,338 183.8,335.5 174.3,333" fill="#ff00ff" fill-opacity="0.2" clip-path="url(#cc2)"/>
<polygon points="174.3,327 183.8,329 190.8,329 199.2,328.5 207.4,326.5 216.2,323.5 223.9,323.5 232.5,323.5 232.5,334.5 223.9,334.5 216.2,334 207.4,331 199.2,332 190.8,332.6 183.8,332.6 174.3,331" fill="#ff0000" fill-opacity="0.2" clip-path="url(#cc2)"/>
<polygon points="174.3,341 183.8,337 190.8,333 199.2,345 207.4,344.5 216.2,345 223.9,345.5 232.5,346.5 232.5,363.9 223.9,362 216.2,362 207.4,361 199.2,359.5 190.8,345 183.8,346 174.3,347.4" fill="#0000ff" fill-opacity="0.2" clip-path="url(#cc2)"/>
<polyline points="174.3,315.8 183.8,299 190.8,308.5 199.2,294.2 207.4,303.4 216.2,280.3 223.9,278.3 232.5,277" fill="none" stroke="#ff00ff" stroke-width="0.95" stroke-linejoin="round"/>
<polygon points="174.3,314.2 175.9,317.08 172.7,317.08" fill="#ff00ff"/>
<polygon points="183.8,297.4 185.4,300.28 182.2,300.28" fill="#ff00ff"/>
<polygon points="190.8,306.9 192.4,309.78 189.2,309.78" fill="#ff00ff"/>
<polygon points="199.2,292.6 200.8,295.48 197.6,295.48" fill="#ff00ff"/>
<polygon points="207.4,301.8 209,304.68 205.8,304.68" fill="#ff00ff"/>
<polygon points="216.2,278.7 217.8,281.58 214.6,281.58" fill="#ff00ff"/>
<polygon points="223.9,276.7 225.5,279.58 222.3,279.58" fill="#ff00ff"/>
<polygon points="232.5,275.4 234.1,278.28 230.9,278.28" fill="#ff00ff"/>
<polyline points="174.3,329 183.8,330.8 190.8,330.8 199.2,330.2 207.4,329.3 216.2,328.2 223.9,328.6 232.5,328.2" fill="none" stroke="#ff1a1a" stroke-width="0.95" stroke-linejoin="round"/>
<circle cx="174.3" cy="329" r="1.45" fill="#ff1a1a"/>
<circle cx="183.8" cy="330.8" r="1.45" fill="#ff1a1a"/>
<circle cx="190.8" cy="330.8" r="1.45" fill="#ff1a1a"/>
<circle cx="199.2" cy="330.2" r="1.45" fill="#ff1a1a"/>
<circle cx="207.4" cy="329.3" r="1.45" fill="#ff1a1a"/>
<circle cx="216.2" cy="328.2" r="1.45" fill="#ff1a1a"/>
<circle cx="223.9" cy="328.6" r="1.45" fill="#ff1a1a"/>
<circle cx="232.5" cy="328.2" r="1.45" fill="#ff1a1a"/>
<polyline points="174.3,340.1 183.8,336.3 190.8,334.8 199.2,352.2 207.4,352.9 216.2,353.3 223.9,353.3 232.5,356.8" fill="none" stroke="#2222ff" stroke-width="0.95" stroke-linejoin="round"/>
<path d="M172.7,338.5L175.9,341.7M172.7,341.7L175.9,338.5" stroke="#2222ff" stroke-width="1.05" fill="none"/>
<path d="M182.2,334.7L185.4,337.9M182.2,337.9L185.4,334.7" stroke="#2222ff" stroke-width="1.05" fill="none"/>
<path d="M189.2,333.2L192.4,336.4M189.2,336.4L192.4,333.2" stroke="#2222ff" stroke-width="1.05" fill="none"/>
<path d="M197.6,350.6L200.8,353.8M197.6,353.8L200.8,350.6" stroke="#2222ff" stroke-width="1.05" fill="none"/>
<path d="M205.8,351.3L209,354.5M205.8,354.5L209,351.3" stroke="#2222ff" stroke-width="1.05" fill="none"/>
<path d="M214.6,351.7L217.8,354.9M214.6,354.9L217.8,351.7" stroke="#2222ff" stroke-width="1.05" fill="none"/>
<path d="M222.3,351.7L225.5,354.9M222.3,354.9L225.5,351.7" stroke="#2222ff" stroke-width="1.05" fill="none"/>
<path d="M230.9,355.2L234.1,358.4M230.9,358.4L234.1,355.2" stroke="#2222ff" stroke-width="1.05" fill="none"/>
<rect x="19.8" y="244.3" width="57.7" height="162.7" fill="none" stroke="#b4b4b4" stroke-width="0.7"/>
<text transform="translate(48.65,233.3) scale(0.56,1)" y="2.09" font-size="5.8" text-anchor="middle" font-weight="bold" fill="#111" stroke="#111" stroke-width="0.12" letter-spacing="0.36">Latency variation with speed</text>
<text transform="translate(48.65,240.2) scale(0.56,1)" y="2.09" font-size="5.8" text-anchor="middle" font-weight="bold" fill="#111" stroke="#111" stroke-width="0.12" letter-spacing="0.36">for an urban mobility scenario</text>
<text transform="translate(18.2,407.7) scale(0.655,1)" y="2.27" font-size="6.3" text-anchor="end" fill="#262626" stroke="#262626" stroke-width="0.18">0</text>
<text transform="translate(18.2,382.75) scale(0.655,1)" y="2.27" font-size="6.3" text-anchor="end" fill="#262626" stroke="#262626" stroke-width="0.18">20</text>
<text transform="translate(18.2,357.8) scale(0.655,1)" y="2.27" font-size="6.3" text-anchor="end" fill="#262626" stroke="#262626" stroke-width="0.18">40</text>
<text transform="translate(18.2,332.85) scale(0.655,1)" y="2.27" font-size="6.3" text-anchor="end" fill="#262626" stroke="#262626" stroke-width="0.18">60</text>
<text transform="translate(18.2,307.9) scale(0.655,1)" y="2.27" font-size="6.3" text-anchor="end" fill="#262626" stroke="#262626" stroke-width="0.18">80</text>
<text transform="translate(18.2,282.95) scale(0.655,1)" y="2.27" font-size="6.3" text-anchor="end" fill="#262626" stroke="#262626" stroke-width="0.18">100</text>
<text transform="translate(18.2,258) scale(0.655,1)" y="2.27" font-size="6.3" text-anchor="end" fill="#262626" stroke="#262626" stroke-width="0.18">120</text>
<text transform="translate(19.8,413.4) scale(0.655,1)" y="2.27" font-size="6.3" text-anchor="middle" fill="#262626" stroke="#262626" stroke-width="0.18">0</text>
<text transform="translate(29.42,413.4) scale(0.655,1)" y="2.27" font-size="6.3" text-anchor="middle" fill="#262626" stroke="#262626" stroke-width="0.18">10</text>
<text transform="translate(39.03,413.4) scale(0.655,1)" y="2.27" font-size="6.3" text-anchor="middle" fill="#262626" stroke="#262626" stroke-width="0.18">20</text>
<text transform="translate(48.65,413.4) scale(0.655,1)" y="2.27" font-size="6.3" text-anchor="middle" fill="#262626" stroke="#262626" stroke-width="0.18">30</text>
<text transform="translate(58.27,413.4) scale(0.655,1)" y="2.27" font-size="6.3" text-anchor="middle" fill="#262626" stroke="#262626" stroke-width="0.18">40</text>
<text transform="translate(67.88,413.4) scale(0.655,1)" y="2.27" font-size="6.3" text-anchor="middle" fill="#262626" stroke="#262626" stroke-width="0.18">50</text>
<text transform="translate(77.5,413.4) scale(0.655,1)" y="2.27" font-size="6.3" text-anchor="middle" fill="#262626" stroke="#262626" stroke-width="0.18">60</text>
<text transform="translate(48.65,422.7) scale(0.73,1)" y="2.12" font-size="5.9" text-anchor="middle" fill="#262626" stroke="#262626" stroke-width="0.18">Speed (km/h)</text>
<text transform="translate(7.6,325.6) scale(0.72,1) rotate(-90)" y="2.32" font-size="6.45" text-anchor="middle" fill="#4a4a4a" stroke="#4a4a4a" stroke-width="0.05">Latency per node per data gathering cycle (ms)</text>
<rect x="97.3" y="244.3" width="57.5" height="162.7" fill="none" stroke="#b4b4b4" stroke-width="0.7"/>
<text transform="translate(126.05,233.3) scale(0.56,1)" y="2.09" font-size="5.8" text-anchor="middle" font-weight="bold" fill="#111" stroke="#111" stroke-width="0.12" letter-spacing="0.36">Latency variation with speed</text>
<text transform="translate(126.05,240.2) scale(0.56,1)" y="2.09" font-size="5.8" text-anchor="middle" font-weight="bold" fill="#111" stroke="#111" stroke-width="0.12" letter-spacing="0.36">for a rural mobility scenario</text>
<text transform="translate(95.7,407.7) scale(0.655,1)" y="2.27" font-size="6.3" text-anchor="end" fill="#262626" stroke="#262626" stroke-width="0.18">0</text>
<text transform="translate(95.7,382.75) scale(0.655,1)" y="2.27" font-size="6.3" text-anchor="end" fill="#262626" stroke="#262626" stroke-width="0.18">20</text>
<text transform="translate(95.7,357.8) scale(0.655,1)" y="2.27" font-size="6.3" text-anchor="end" fill="#262626" stroke="#262626" stroke-width="0.18">40</text>
<text transform="translate(95.7,332.85) scale(0.655,1)" y="2.27" font-size="6.3" text-anchor="end" fill="#262626" stroke="#262626" stroke-width="0.18">60</text>
<text transform="translate(95.7,307.9) scale(0.655,1)" y="2.27" font-size="6.3" text-anchor="end" fill="#262626" stroke="#262626" stroke-width="0.18">80</text>
<text transform="translate(95.7,282.95) scale(0.655,1)" y="2.27" font-size="6.3" text-anchor="end" fill="#262626" stroke="#262626" stroke-width="0.18">100</text>
<text transform="translate(95.7,258) scale(0.655,1)" y="2.27" font-size="6.3" text-anchor="end" fill="#262626" stroke="#262626" stroke-width="0.18">120</text>
<text transform="translate(99.5,412.2) scale(0.655,1) rotate(-45)" y="2.27" font-size="6.3" text-anchor="end" fill="#262626" stroke="#262626" stroke-width="0.18">0</text>
<text transform="translate(111,412.2) scale(0.655,1) rotate(-45)" y="2.27" font-size="6.3" text-anchor="end" fill="#262626" stroke="#262626" stroke-width="0.18">20</text>
<text transform="translate(122.5,412.2) scale(0.655,1) rotate(-45)" y="2.27" font-size="6.3" text-anchor="end" fill="#262626" stroke="#262626" stroke-width="0.18">40</text>
<text transform="translate(134,412.2) scale(0.655,1) rotate(-45)" y="2.27" font-size="6.3" text-anchor="end" fill="#262626" stroke="#262626" stroke-width="0.18">60</text>
<text transform="translate(145.5,412.2) scale(0.655,1) rotate(-45)" y="2.27" font-size="6.3" text-anchor="end" fill="#262626" stroke="#262626" stroke-width="0.18">80</text>
<text transform="translate(157,412.2) scale(0.655,1) rotate(-45)" y="2.27" font-size="6.3" text-anchor="end" fill="#262626" stroke="#262626" stroke-width="0.18">100</text>
<text transform="translate(126.05,427.8) scale(0.73,1)" y="2.12" font-size="5.9" text-anchor="middle" fill="#262626" stroke="#262626" stroke-width="0.18">Speed (km/h)</text>
<text transform="translate(84.8,325.6) scale(0.72,1) rotate(-90)" y="2.32" font-size="6.45" text-anchor="middle" fill="#4a4a4a" stroke="#4a4a4a" stroke-width="0.05">Latency per node per data gathering cycle (ms)</text>
<rect x="174.3" y="244.3" width="58.2" height="162.7" fill="none" stroke="#b4b4b4" stroke-width="0.7"/>
<path d="M192,407 L193.8,406.3 L195.8,409 L197.6,407" stroke="#6a6a6a" stroke-width="0.8" fill="none" stroke-linejoin="round"/>
<path d="M200.3,407 L202.1,406.3 L204.1,409 L205.9,407" stroke="#6a6a6a" stroke-width="0.8" fill="none" stroke-linejoin="round"/>
<path d="M208.8,407 L210.6,406.3 L212.6,409 L214.4,407" stroke="#6a6a6a" stroke-width="0.8" fill="none" stroke-linejoin="round"/>
<path d="M217.05,407 L218.85,406.3 L220.85,409 L222.65,407" stroke="#6a6a6a" stroke-width="0.8" fill="none" stroke-linejoin="round"/>
<path d="M225.2,407 L227,406.3 L229,409 L230.8,407" stroke="#6a6a6a" stroke-width="0.8" fill="none" stroke-linejoin="round"/>
<text transform="translate(203.4,233.3) scale(0.56,1)" y="2.09" font-size="5.8" text-anchor="middle" font-weight="bold" fill="#111" stroke="#111" stroke-width="0.12" letter-spacing="0.36">Latency variation with speed</text>
<text transform="translate(203.4,240.2) scale(0.56,1)" y="2.09" font-size="5.8" text-anchor="middle" font-weight="bold" fill="#111" stroke="#111" stroke-width="0.12" letter-spacing="0.36">for an autobahn mobility scenario</text>
<text transform="translate(172.7,407.7) scale(0.655,1)" y="2.27" font-size="6.3" text-anchor="end" fill="#262626" stroke="#262626" stroke-width="0.18">0</text>
<text transform="translate(172.7,382.75) scale(0.655,1)" y="2.27" font-size="6.3" text-anchor="end" fill="#262626" stroke="#262626" stroke-width="0.18">20</text>
<text transform="translate(172.7,357.8) scale(0.655,1)" y="2.27" font-size="6.3" text-anchor="end" fill="#262626" stroke="#262626" stroke-width="0.18">40</text>
<text transform="translate(172.7,332.85) scale(0.655,1)" y="2.27" font-size="6.3" text-anchor="end" fill="#262626" stroke="#262626" stroke-width="0.18">60</text>
<text transform="translate(172.7,307.9) scale(0.655,1)" y="2.27" font-size="6.3" text-anchor="end" fill="#262626" stroke="#262626" stroke-width="0.18">80</text>
<text transform="translate(172.7,282.95) scale(0.655,1)" y="2.27" font-size="6.3" text-anchor="end" fill="#262626" stroke="#262626" stroke-width="0.18">100</text>
<text transform="translate(172.7,258) scale(0.655,1)" y="2.27" font-size="6.3" text-anchor="end" fill="#262626" stroke="#262626" stroke-width="0.18">120</text>
<text transform="translate(176.5,412.2) scale(0.655,1) rotate(-45)" y="2.27" font-size="6.3" text-anchor="end" fill="#262626" stroke="#262626" stroke-width="0.18">0</text>
<text transform="translate(186,412.2) scale(0.655,1) rotate(-45)" y="2.27" font-size="6.3" text-anchor="end" fill="#262626" stroke="#262626" stroke-width="0.18">25</text>
<text transform="translate(193,412.2) scale(0.655,1) rotate(-45)" y="2.27" font-size="6.3" text-anchor="end" fill="#262626" stroke="#262626" stroke-width="0.18">50</text>
<text transform="translate(201.4,412.2) scale(0.655,1) rotate(-45)" y="2.27" font-size="6.3" text-anchor="end" fill="#262626" stroke="#262626" stroke-width="0.18">80</text>
<text transform="translate(209.6,412.2) scale(0.655,1) rotate(-45)" y="2.27" font-size="6.3" text-anchor="end" fill="#262626" stroke="#262626" stroke-width="0.18">120</text>
<text transform="translate(218.4,412.2) scale(0.655,1) rotate(-45)" y="2.27" font-size="6.3" text-anchor="end" fill="#262626" stroke="#262626" stroke-width="0.18">170</text>
<text transform="translate(226.1,412.2) scale(0.655,1) rotate(-45)" y="2.27" font-size="6.3" text-anchor="end" fill="#262626" stroke="#262626" stroke-width="0.18">210</text>
<text transform="translate(234.7,412.2) scale(0.655,1) rotate(-45)" y="2.27" font-size="6.3" text-anchor="end" fill="#262626" stroke="#262626" stroke-width="0.18">250</text>
<text transform="translate(203.4,427.8) scale(0.73,1)" y="2.12" font-size="5.9" text-anchor="middle" fill="#262626" stroke="#262626" stroke-width="0.18">Speed (km/h)</text>
<text transform="translate(162,325.6) scale(0.72,1) rotate(-90)" y="2.32" font-size="6.45" text-anchor="middle" fill="#4a4a4a" stroke="#4a4a4a" stroke-width="0.05">Latency per node per data gathering cycle (ms)</text>
<rect x="31.2" y="377.1" width="36.7" height="22.4" fill="#fff" stroke="#b4b4b4" stroke-width="0.6"/>
<line x1="32.2" y1="381.4" x2="38.7" y2="381.4" stroke="#ff1a1a" stroke-width="1"/>
<circle cx="35.45" cy="381.4" r="1.7" fill="#ff1a1a"/>
<text transform="translate(39.5,381.4) scale(0.645,1)" y="2.05" font-size="5.7" text-anchor="start" fill="#202020" stroke="#202020" stroke-width="0.14">Dijkstra</text>
<line x1="32.2" y1="388.8" x2="38.7" y2="388.8" stroke="#2222ff" stroke-width="1"/>
<path d="M33.75,387.1L37.15,390.5M33.75,390.5L37.15,387.1M33.41,388.8L37.49,388.8" stroke="#2222ff" stroke-width="0.8" fill="none"/>
<text transform="translate(39.5,388.8) scale(0.645,1)" y="2.05" font-size="5.7" text-anchor="start" fill="#202020" stroke="#202020" stroke-width="0.14">Proposed routing</text>
<line x1="32.2" y1="396.1" x2="38.7" y2="396.1" stroke="#ff00ff" stroke-width="1"/>
<polygon points="35.45,394.4 37.15,397.46 33.75,397.46" fill="#ff00ff"/>
<text transform="translate(39.5,396.1) scale(0.645,1)" y="2.05" font-size="5.7" text-anchor="start" fill="#202020" stroke="#202020" stroke-width="0.14">AODV</text>
<rect x="110.4" y="259.6" width="36.8" height="21.4" fill="#fff" stroke="#b4b4b4" stroke-width="0.6"/>
<line x1="111.4" y1="263.6" x2="118" y2="263.6" stroke="#ff1a1a" stroke-width="1"/>
<circle cx="114.7" cy="263.6" r="1.7" fill="#ff1a1a"/>
<text transform="translate(118.8,263.6) scale(0.645,1)" y="2.05" font-size="5.7" text-anchor="start" fill="#202020" stroke="#202020" stroke-width="0.14">Dijkstra</text>
<line x1="111.4" y1="270.8" x2="118" y2="270.8" stroke="#2222ff" stroke-width="1"/>
<path d="M113,269.1L116.4,272.5M113,272.5L116.4,269.1M112.66,270.8L116.74,270.8" stroke="#2222ff" stroke-width="0.8" fill="none"/>
<text transform="translate(118.8,270.8) scale(0.645,1)" y="2.05" font-size="5.7" text-anchor="start" fill="#202020" stroke="#202020" stroke-width="0.14">Proposed routing</text>
<line x1="111.4" y1="278" x2="118" y2="278" stroke="#ff00ff" stroke-width="1"/>
<polygon points="114.7,276.3 116.4,279.36 113,279.36" fill="#ff00ff"/>
<text transform="translate(118.8,278) scale(0.645,1)" y="2.05" font-size="5.7" text-anchor="start" fill="#202020" stroke="#202020" stroke-width="0.14">AODV</text>
<rect x="184.7" y="367.6" width="37.4" height="22" fill="#fff" stroke="#b4b4b4" stroke-width="0.6"/>
<line x1="185.7" y1="371.8" x2="192.3" y2="371.8" stroke="#ff1a1a" stroke-width="1"/>
<circle cx="189" cy="371.8" r="1.7" fill="#ff1a1a"/>
<text transform="translate(193.1,371.8) scale(0.645,1)" y="2.05" font-size="5.7" text-anchor="start" fill="#202020" stroke="#202020" stroke-width="0.14">Dijkstra</text>
<line x1="185.7" y1="378.8" x2="192.3" y2="378.8" stroke="#2222ff" stroke-width="1"/>
<path d="M187.3,377.1L190.7,380.5M187.3,380.5L190.7,377.1M186.96,378.8L191.04,378.8" stroke="#2222ff" stroke-width="0.8" fill="none"/>
<text transform="translate(193.1,378.8) scale(0.645,1)" y="2.05" font-size="5.7" text-anchor="start" fill="#202020" stroke="#202020" stroke-width="0.14">Proposed routing</text>
<line x1="185.7" y1="385.8" x2="192.3" y2="385.8" stroke="#ff00ff" stroke-width="1"/>
<polygon points="189,384.1 190.7,387.16 187.3,387.16" fill="#ff00ff"/>
<text transform="translate(193.1,385.8) scale(0.645,1)" y="2.05" font-size="5.7" text-anchor="start" fill="#202020" stroke="#202020" stroke-width="0.14">AODV</text>
<text x="120.9" y="448.7" font-size="11.2" text-anchor="middle" font-family="Liberation Serif, serif" fill="#111" letter-spacing="0"><tspan fill="#333">(</tspan><tspan font-weight="bold" stroke="#111" stroke-width="0.15">c</tspan><tspan fill="#333">)</tspan></text>
<line x1="326.3" y1="245.3" x2="326.3" y2="407.4" stroke="#ececec" stroke-width="0.6"/>
<line x1="335.97" y1="245.3" x2="335.97" y2="407.4" stroke="#ececec" stroke-width="0.6"/>
<line x1="345.63" y1="245.3" x2="345.63" y2="407.4" stroke="#ececec" stroke-width="0.6"/>
<line x1="355.3" y1="245.3" x2="355.3" y2="407.4" stroke="#ececec" stroke-width="0.6"/>
<line x1="364.97" y1="245.3" x2="364.97" y2="407.4" stroke="#ececec" stroke-width="0.6"/>
<line x1="374.63" y1="245.3" x2="374.63" y2="407.4" stroke="#ececec" stroke-width="0.6"/>
<line x1="384.3" y1="245.3" x2="384.3" y2="407.4" stroke="#ececec" stroke-width="0.6"/>
<line x1="326.3" y1="407.3" x2="384.3" y2="407.3" stroke="#ececec" stroke-width="0.6"/>
<line x1="326.3" y1="391.14" x2="384.3" y2="391.14" stroke="#ececec" stroke-width="0.6"/>
<line x1="326.3" y1="374.98" x2="384.3" y2="374.98" stroke="#ececec" stroke-width="0.6"/>
<line x1="326.3" y1="358.82" x2="384.3" y2="358.82" stroke="#ececec" stroke-width="0.6"/>
<line x1="326.3" y1="342.66" x2="384.3" y2="342.66" stroke="#ececec" stroke-width="0.6"/>
<line x1="326.3" y1="326.5" x2="384.3" y2="326.5" stroke="#ececec" stroke-width="0.6"/>
<line x1="326.3" y1="310.34" x2="384.3" y2="310.34" stroke="#ececec" stroke-width="0.6"/>
<line x1="326.3" y1="294.18" x2="384.3" y2="294.18" stroke="#ececec" stroke-width="0.6"/>
<line x1="326.3" y1="278.02" x2="384.3" y2="278.02" stroke="#ececec" stroke-width="0.6"/>
<line x1="326.3" y1="261.86" x2="384.3" y2="261.86" stroke="#ececec" stroke-width="0.6"/>
<line x1="326.3" y1="245.7" x2="384.3" y2="245.7" stroke="#ececec" stroke-width="0.6"/>
<line x1="403.1" y1="245.3" x2="403.1" y2="407.4" stroke="#ececec" stroke-width="0.6"/>
<line x1="414.68" y1="245.3" x2="414.68" y2="407.4" stroke="#ececec" stroke-width="0.6"/>
<line x1="426.26" y1="245.3" x2="426.26" y2="407.4" stroke="#ececec" stroke-width="0.6"/>
<line x1="437.84" y1="245.3" x2="437.84" y2="407.4" stroke="#ececec" stroke-width="0.6"/>
<line x1="449.42" y1="245.3" x2="449.42" y2="407.4" stroke="#ececec" stroke-width="0.6"/>
<line x1="461" y1="245.3" x2="461" y2="407.4" stroke="#ececec" stroke-width="0.6"/>
<line x1="403.1" y1="407.3" x2="461" y2="407.3" stroke="#ececec" stroke-width="0.6"/>
<line x1="403.1" y1="391.14" x2="461" y2="391.14" stroke="#ececec" stroke-width="0.6"/>
<line x1="403.1" y1="374.98" x2="461" y2="374.98" stroke="#ececec" stroke-width="0.6"/>
<line x1="403.1" y1="358.82" x2="461" y2="358.82" stroke="#ececec" stroke-width="0.6"/>
<line x1="403.1" y1="342.66" x2="461" y2="342.66" stroke="#ececec" stroke-width="0.6"/>
<line x1="403.1" y1="326.5" x2="461" y2="326.5" stroke="#ececec" stroke-width="0.6"/>
<line x1="403.1" y1="310.34" x2="461" y2="310.34" stroke="#ececec" stroke-width="0.6"/>
<line x1="403.1" y1="294.18" x2="461" y2="294.18" stroke="#ececec" stroke-width="0.6"/>
<line x1="403.1" y1="278.02" x2="461" y2="278.02" stroke="#ececec" stroke-width="0.6"/>
<line x1="403.1" y1="261.86" x2="461" y2="261.86" stroke="#ececec" stroke-width="0.6"/>
<line x1="403.1" y1="245.7" x2="461" y2="245.7" stroke="#ececec" stroke-width="0.6"/>
<line x1="479.7" y1="245.3" x2="479.7" y2="407.4" stroke="#ececec" stroke-width="0.6"/>
<line x1="489.6" y1="245.3" x2="489.6" y2="407.4" stroke="#ececec" stroke-width="0.6"/>
<line x1="496.3" y1="245.3" x2="496.3" y2="407.4" stroke="#ececec" stroke-width="0.6"/>
<line x1="504.6" y1="245.3" x2="504.6" y2="407.4" stroke="#ececec" stroke-width="0.6"/>
<line x1="512.8" y1="245.3" x2="512.8" y2="407.4" stroke="#ececec" stroke-width="0.6"/>
<line x1="520.9" y1="245.3" x2="520.9" y2="407.4" stroke="#ececec" stroke-width="0.6"/>
<line x1="529.3" y1="245.3" x2="529.3" y2="407.4" stroke="#ececec" stroke-width="0.6"/>
<line x1="537.7" y1="245.3" x2="537.7" y2="407.4" stroke="#ececec" stroke-width="0.6"/>
<line x1="479.7" y1="407.3" x2="537.7" y2="407.3" stroke="#ececec" stroke-width="0.6"/>
<line x1="479.7" y1="391.14" x2="537.7" y2="391.14" stroke="#ececec" stroke-width="0.6"/>
<line x1="479.7" y1="374.98" x2="537.7" y2="374.98" stroke="#ececec" stroke-width="0.6"/>
<line x1="479.7" y1="358.82" x2="537.7" y2="358.82" stroke="#ececec" stroke-width="0.6"/>
<line x1="479.7" y1="342.66" x2="537.7" y2="342.66" stroke="#ececec" stroke-width="0.6"/>
<line x1="479.7" y1="326.5" x2="537.7" y2="326.5" stroke="#ececec" stroke-width="0.6"/>
<line x1="479.7" y1="310.34" x2="537.7" y2="310.34" stroke="#ececec" stroke-width="0.6"/>
<line x1="479.7" y1="294.18" x2="537.7" y2="294.18" stroke="#ececec" stroke-width="0.6"/>
<line x1="479.7" y1="278.02" x2="537.7" y2="278.02" stroke="#ececec" stroke-width="0.6"/>
<line x1="479.7" y1="261.86" x2="537.7" y2="261.86" stroke="#ececec" stroke-width="0.6"/>
<line x1="479.7" y1="245.7" x2="537.7" y2="245.7" stroke="#ececec" stroke-width="0.6"/>
<clipPath id="cd0"><rect x="326.3" y="245.3" width="58" height="162.1"/></clipPath>
<clipPath id="cd1"><rect x="403.1" y="245.3" width="57.9" height="162.1"/></clipPath>
<clipPath id="cd2"><rect x="479.7" y="245.3" width="58" height="162.1"/></clipPath>
<polygon points="326.3,303 335.97,293.1 345.63,289.8 355.3,295.3 364.97,299.7 374.63,288.7 384.3,287.6 384.3,321 374.63,322 364.97,319.8 355.3,322 345.63,321 335.97,312 326.3,312" fill="#fff" clip-path="url(#cd0)"/>
<polygon points="326.3,308.8 335.97,310 345.63,321 355.3,322 364.97,319.8 374.63,324.2 384.3,325.3 384.3,345.5 374.63,344 364.97,340 355.3,343 345.63,340.7 335.97,329.7 326.3,341.9" fill="#fff" clip-path="url(#cd0)"/>
<polygon points="326.3,356.2 335.97,355 345.63,354 355.3,353.5 364.97,352.9 374.63,351.1 384.3,351.8 384.3,377.1 374.63,377.5 364.97,378.6 355.3,379 345.63,379.7 335.97,381 326.3,382.6" fill="#fff" clip-path="url(#cd0)"/>
<polygon points="326.3,303 335.97,293.1 345.63,289.8 355.3,295.3 364.97,299.7 374.63,288.7 384.3,287.6 384.3,321 374.63,322 364.97,319.8 355.3,322 345.63,321 335.97,312 326.3,312" fill="#0000ff" fill-opacity="0.2" clip-path="url(#cd0)"/>
<polygon points="326.3,308.8 335.97,310 345.63,321 355.3,322 364.97,319.8 374.63,324.2 384.3,325.3 384.3,345.5 374.63,344 364.97,340 355.3,343 345.63,340.7 335.97,329.7 326.3,341.9" fill="#ff00ff" fill-opacity="0.2" clip-path="url(#cd0)"/>
<polygon points="326.3,356.2 335.97,355 345.63,354 355.3,353.5 364.97,352.9 374.63,351.1 384.3,351.8 384.3,377.1 374.63,377.5 364.97,378.6 355.3,379 345.63,379.7 335.97,381 326.3,382.6" fill="#ff0000" fill-opacity="0.2" clip-path="url(#cd0)"/>
<polyline points="326.3,317.3 335.97,308.5 345.63,305.2 355.3,312.2 364.97,312.9 374.63,304.5 384.3,303.7" fill="none" stroke="#2222ff" stroke-width="0.95" stroke-linejoin="round"/>
<path d="M324.7,315.7L327.9,318.9M324.7,318.9L327.9,315.7" stroke="#2222ff" stroke-width="1.05" fill="none"/>
<path d="M334.37,306.9L337.57,310.1M334.37,310.1L337.57,306.9" stroke="#2222ff" stroke-width="1.05" fill="none"/>
<path d="M344.03,303.6L347.23,306.8M344.03,306.8L347.23,303.6" stroke="#2222ff" stroke-width="1.05" fill="none"/>
<path d="M353.7,310.6L356.9,313.8M353.7,313.8L356.9,310.6" stroke="#2222ff" stroke-width="1.05" fill="none"/>
<path d="M363.37,311.3L366.57,314.5M363.37,314.5L366.57,311.3" stroke="#2222ff" stroke-width="1.05" fill="none"/>
<path d="M373.03,302.9L376.23,306.1M373.03,306.1L376.23,302.9" stroke="#2222ff" stroke-width="1.05" fill="none"/>
<path d="M382.7,302.1L385.9,305.3M382.7,305.3L385.9,302.1" stroke="#2222ff" stroke-width="1.05" fill="none"/>
<polyline points="326.3,323.8 335.97,318.7 345.63,330.8 355.3,333.5 364.97,329.7 374.63,335.2 384.3,335.2" fill="none" stroke="#ff00ff" stroke-width="0.95" stroke-linejoin="round"/>
<polygon points="326.3,322.2 327.9,325.08 324.7,325.08" fill="#ff00ff"/>
<polygon points="335.97,317.1 337.57,319.98 334.37,319.98" fill="#ff00ff"/>
<polygon points="345.63,329.2 347.23,332.08 344.03,332.08" fill="#ff00ff"/>
<polygon points="355.3,331.9 356.9,334.78 353.7,334.78" fill="#ff00ff"/>
<polygon points="364.97,328.1 366.57,330.98 363.37,330.98" fill="#ff00ff"/>
<polygon points="374.63,333.6 376.23,336.48 373.03,336.48" fill="#ff00ff"/>
<polygon points="384.3,333.6 385.9,336.48 382.7,336.48" fill="#ff00ff"/>
<polyline points="326.3,369.4 335.97,367.6 345.63,365.6 355.3,365.6 364.97,365.2 374.63,363.9 384.3,365" fill="none" stroke="#ff1a1a" stroke-width="0.95" stroke-linejoin="round"/>
<circle cx="326.3" cy="369.4" r="1.45" fill="#ff1a1a"/>
<circle cx="335.97" cy="367.6" r="1.45" fill="#ff1a1a"/>
<circle cx="345.63" cy="365.6" r="1.45" fill="#ff1a1a"/>
<circle cx="355.3" cy="365.6" r="1.45" fill="#ff1a1a"/>
<circle cx="364.97" cy="365.2" r="1.45" fill="#ff1a1a"/>
<circle cx="374.63" cy="363.9" r="1.45" fill="#ff1a1a"/>
<circle cx="384.3" cy="365" r="1.45" fill="#ff1a1a"/>
<polygon points="403.1,317.6 414.68,314.3 426.26,313.2 437.84,313.2 449.42,314.3 461,315 461,340.7 449.42,336.3 437.84,333 426.26,333 414.68,334 403.1,335.2" fill="#fff" clip-path="url(#cd1)"/>
<polygon points="403.1,338.5 414.68,334.1 426.26,333 437.84,333 449.42,336.3 461,340.7 461,371.8 449.42,367.7 437.84,366.5 426.26,366.5 414.68,368 403.1,374.8" fill="#fff" clip-path="url(#cd1)"/>
<polygon points="403.1,374.8 414.68,368 426.26,366.5 437.84,366.5 449.42,367.7 461,371.8 461,395.5 449.42,391.9 437.84,390.7 426.26,390.1 414.68,395.5 403.1,400.2" fill="#fff" clip-path="url(#cd1)"/>
<polygon points="403.1,317.6 414.68,314.3 426.26,313.2 437.84,313.2 449.42,314.3 461,315 461,340.7 449.42,336.3 437.84,333 426.26,333 414.68,334 403.1,335.2" fill="#0000ff" fill-opacity="0.2" clip-path="url(#cd1)"/>
<polygon points="403.1,338.5 414.68,334.1 426.26,333 437.84,333 449.42,336.3 461,340.7 461,371.8 449.42,367.7 437.84,366.5 426.26,366.5 414.68,368 403.1,374.8" fill="#ff00ff" fill-opacity="0.2" clip-path="url(#cd1)"/>
<polygon points="403.1,374.8 414.68,368 426.26,366.5 437.84,366.5 449.42,367.7 461,371.8 461,395.5 449.42,391.9 437.84,390.7 426.26,390.1 414.68,395.5 403.1,400.2" fill="#ff0000" fill-opacity="0.2" clip-path="url(#cd1)"/>
<polyline points="403.1,344.7 414.68,343 426.26,341.4 437.84,341.4 449.42,342.5 461,343" fill="none" stroke="#2222ff" stroke-width="0.95" stroke-linejoin="round"/>
<path d="M401.5,343.1L404.7,346.3M401.5,346.3L404.7,343.1" stroke="#2222ff" stroke-width="1.05" fill="none"/>
<path d="M413.08,341.4L416.28,344.6M413.08,344.6L416.28,341.4" stroke="#2222ff" stroke-width="1.05" fill="none"/>
<path d="M424.66,339.8L427.86,343M424.66,343L427.86,339.8" stroke="#2222ff" stroke-width="1.05" fill="none"/>
<path d="M436.24,339.8L439.44,343M436.24,343L439.44,339.8" stroke="#2222ff" stroke-width="1.05" fill="none"/>
<path d="M447.82,340.9L451.02,344.1M447.82,344.1L451.02,340.9" stroke="#2222ff" stroke-width="1.05" fill="none"/>
<path d="M459.4,341.4L462.6,344.6M459.4,344.6L462.6,341.4" stroke="#2222ff" stroke-width="1.05" fill="none"/>
<polyline points="403.1,363.4 414.68,350.2 426.26,351.3 437.84,350.2 449.42,354 461,358.4" fill="none" stroke="#ff00ff" stroke-width="0.95" stroke-linejoin="round"/>
<polygon points="403.1,361.8 404.7,364.68 401.5,364.68" fill="#ff00ff"/>
<polygon points="414.68,348.6 416.28,351.48 413.08,351.48" fill="#ff00ff"/>
<polygon points="426.26,349.7 427.86,352.58 424.66,352.58" fill="#ff00ff"/>
<polygon points="437.84,348.6 439.44,351.48 436.24,351.48" fill="#ff00ff"/>
<polygon points="449.42,352.4 451.02,355.28 447.82,355.28" fill="#ff00ff"/>
<polygon points="461,356.8 462.6,359.68 459.4,359.68" fill="#ff00ff"/>
<polyline points="403.1,387.7 414.68,377.1 426.26,372.7 437.84,375.3 449.42,377.8 461,382" fill="none" stroke="#ff1a1a" stroke-width="0.95" stroke-linejoin="round"/>
<circle cx="403.1" cy="387.7" r="1.45" fill="#ff1a1a"/>
<circle cx="414.68" cy="377.1" r="1.45" fill="#ff1a1a"/>
<circle cx="426.26" cy="372.7" r="1.45" fill="#ff1a1a"/>
<circle cx="437.84" cy="375.3" r="1.45" fill="#ff1a1a"/>
<circle cx="449.42" cy="377.8" r="1.45" fill="#ff1a1a"/>
<circle cx="461" cy="382" r="1.45" fill="#ff1a1a"/>
<polygon points="479.7,267.7 489.6,235 496.3,230 504.6,249.5 512.8,250.1 520.9,250.1 529.3,250.8 537.7,254.5 537.7,288.4 529.3,279.6 520.9,273 512.8,271.4 504.6,270.7 496.3,259.7 489.6,268.5 479.7,291" fill="#fff" clip-path="url(#cd2)"/>
<polygon points="479.7,287.6 489.6,265.5 496.3,256.7 504.6,267.7 512.8,268.4 520.9,270 529.3,276.6 537.7,285.4 537.7,341.9 529.3,335.2 520.9,328.6 512.8,322 504.6,321.6 496.3,321 489.6,320.9 479.7,347.4" fill="#fff" clip-path="url(#cd2)"/>
<polygon points="479.7,347.4 489.6,320.9 496.3,323.1 504.6,334.1 512.8,339.6 520.9,347.4 529.3,350.7 537.7,355.1 537.7,390.3 529.3,388.1 520.9,383.7 512.8,372.7 504.6,363.9 496.3,349.6 489.6,357.3 479.7,370.5" fill="#fff" clip-path="url(#cd2)"/>
<polygon points="479.7,267.7 489.6,235 496.3,230 504.6,249.5 512.8,250.1 520.9,250.1 529.3,250.8 537.7,254.5 537.7,288.4 529.3,279.6 520.9,273 512.8,271.4 504.6,270.7 496.3,259.7 489.6,268.5 479.7,291" fill="#0000ff" fill-opacity="0.2" clip-path="url(#cd2)"/>
<polygon points="479.7,287.6 489.6,265.5 496.3,256.7 504.6,267.7 512.8,268.4 520.9,270 529.3,276.6 537.7,285.4 537.7,341.9 529.3,335.2 520.9,328.6 512.8,322 504.6,321.6 496.3,321 489.6,320.9 479.7,347.4" fill="#ff00ff" fill-opacity="0.2" clip-path="url(#cd2)"/>
<polygon points="479.7,347.4 489.6,320.9 496.3,323.1 504.6,334.1 512.8,339.6 520.9,347.4 529.3,350.7 537.7,355.1 537.7,390.3 529.3,388.1 520.9,383.7 512.8,372.7 504.6,363.9 496.3,349.6 489.6,357.3 479.7,370.5" fill="#ff0000" fill-opacity="0.2" clip-path="url(#cd2)"/>
<polyline points="479.7,301.9 489.6,279.2 496.3,271.5 504.6,286 512.8,285.4 520.9,286.5 529.3,284.9 537.7,292" fill="none" stroke="#2222ff" stroke-width="0.95" stroke-linejoin="round"/>
<path d="M478.1,300.3L481.3,303.5M478.1,303.5L481.3,300.3" stroke="#2222ff" stroke-width="1.05" fill="none"/>
<path d="M488,277.6L491.2,280.8M488,280.8L491.2,277.6" stroke="#2222ff" stroke-width="1.05" fill="none"/>
<path d="M494.7,269.9L497.9,273.1M494.7,273.1L497.9,269.9" stroke="#2222ff" stroke-width="1.05" fill="none"/>
<path d="M503,284.4L506.2,287.6M503,287.6L506.2,284.4" stroke="#2222ff" stroke-width="1.05" fill="none"/>
<path d="M511.2,283.8L514.4,287M511.2,287L514.4,283.8" stroke="#2222ff" stroke-width="1.05" fill="none"/>
<path d="M519.3,284.9L522.5,288.1M519.3,288.1L522.5,284.9" stroke="#2222ff" stroke-width="1.05" fill="none"/>
<path d="M527.7,283.3L530.9,286.5M527.7,286.5L530.9,283.3" stroke="#2222ff" stroke-width="1.05" fill="none"/>
<path d="M536.1,290.4L539.3,293.6M536.1,293.6L539.3,290.4" stroke="#2222ff" stroke-width="1.05" fill="none"/>
<polyline points="479.7,323.5 489.6,291.5 496.3,288.7 504.6,294.8 512.8,295.9 520.9,299.2 529.3,307.4 537.7,314.7" fill="none" stroke="#ff00ff" stroke-width="0.95" stroke-linejoin="round"/>
<polygon points="479.7,321.9 481.3,324.78 478.1,324.78" fill="#ff00ff"/>
<polygon points="489.6,289.9 491.2,292.78 488,292.78" fill="#ff00ff"/>
<polygon points="496.3,287.1 497.9,289.98 494.7,289.98" fill="#ff00ff"/>
<polygon points="504.6,293.2 506.2,296.08 503,296.08" fill="#ff00ff"/>
<polygon points="512.8,294.3 514.4,297.18 511.2,297.18" fill="#ff00ff"/>
<polygon points="520.9,297.6 522.5,300.48 519.3,300.48" fill="#ff00ff"/>
<polygon points="529.3,305.8 530.9,308.68 527.7,308.68" fill="#ff00ff"/>
<polygon points="537.7,313.1 539.3,315.98 536.1,315.98" fill="#ff00ff"/>
<polyline points="479.7,363.4 489.6,337.4 496.3,335.9 504.6,349.6 512.8,358.4 520.9,367.2 529.3,370 537.7,373.8" fill="none" stroke="#ff1a1a" stroke-width="0.95" stroke-linejoin="round"/>
<circle cx="479.7" cy="363.4" r="1.45" fill="#ff1a1a"/>
<circle cx="489.6" cy="337.4" r="1.45" fill="#ff1a1a"/>
<circle cx="496.3" cy="335.9" r="1.45" fill="#ff1a1a"/>
<circle cx="504.6" cy="349.6" r="1.45" fill="#ff1a1a"/>
<circle cx="512.8" cy="358.4" r="1.45" fill="#ff1a1a"/>
<circle cx="520.9" cy="367.2" r="1.45" fill="#ff1a1a"/>
<circle cx="529.3" cy="370" r="1.45" fill="#ff1a1a"/>
<circle cx="537.7" cy="373.8" r="1.45" fill="#ff1a1a"/>
<rect x="326.3" y="245.3" width="58" height="162.1" fill="none" stroke="#b4b4b4" stroke-width="0.7"/>
<text transform="translate(355.3,233.7) scale(0.56,1)" y="2.09" font-size="5.8" text-anchor="middle" font-weight="bold" fill="#111" stroke="#111" stroke-width="0.12" letter-spacing="0.36">Packet delivery ratio variation with</text>
<text transform="translate(355.3,240.4) scale(0.56,1)" y="2.09" font-size="5.8" text-anchor="middle" font-weight="bold" fill="#111" stroke="#111" stroke-width="0.12" letter-spacing="0.36">speed for an urban mobility scenario</text>
<text transform="translate(324.7,407.65) scale(0.655,1)" y="2.27" font-size="6.3" text-anchor="end" fill="#262626" stroke="#262626" stroke-width="0.18">0</text>
<text transform="translate(324.7,391.49) scale(0.655,1)" y="2.27" font-size="6.3" text-anchor="end" fill="#262626" stroke="#262626" stroke-width="0.18">5</text>
<text transform="translate(324.7,375.33) scale(0.655,1)" y="2.27" font-size="6.3" text-anchor="end" fill="#262626" stroke="#262626" stroke-width="0.18">10</text>
<text transform="translate(324.7,359.17) scale(0.655,1)" y="2.27" font-size="6.3" text-anchor="end" fill="#262626" stroke="#262626" stroke-width="0.18">15</text>
<text transform="translate(324.7,343.01) scale(0.655,1)" y="2.27" font-size="6.3" text-anchor="end" fill="#262626" stroke="#262626" stroke-width="0.18">20</text>
<text transform="translate(324.7,326.85) scale(0.655,1)" y="2.27" font-size="6.3" text-anchor="end" fill="#262626" stroke="#262626" stroke-width="0.18">25</text>
<text transform="translate(324.7,310.69) scale(0.655,1)" y="2.27" font-size="6.3" text-anchor="end" fill="#262626" stroke="#262626" stroke-width="0.18">30</text>
<text transform="translate(324.7,294.53) scale(0.655,1)" y="2.27" font-size="6.3" text-anchor="end" fill="#262626" stroke="#262626" stroke-width="0.18">35</text>
<text transform="translate(324.7,278.37) scale(0.655,1)" y="2.27" font-size="6.3" text-anchor="end" fill="#262626" stroke="#262626" stroke-width="0.18">40</text>
<text transform="translate(324.7,262.21) scale(0.655,1)" y="2.27" font-size="6.3" text-anchor="end" fill="#262626" stroke="#262626" stroke-width="0.18">45</text>
<text transform="translate(324.7,246.05) scale(0.655,1)" y="2.27" font-size="6.3" text-anchor="end" fill="#262626" stroke="#262626" stroke-width="0.18">50</text>
<text transform="translate(326.3,413.8) scale(0.655,1)" y="2.27" font-size="6.3" text-anchor="middle" fill="#262626" stroke="#262626" stroke-width="0.18">0</text>
<text transform="translate(335.97,413.8) scale(0.655,1)" y="2.27" font-size="6.3" text-anchor="middle" fill="#262626" stroke="#262626" stroke-width="0.18">10</text>
<text transform="translate(345.63,413.8) scale(0.655,1)" y="2.27" font-size="6.3" text-anchor="middle" fill="#262626" stroke="#262626" stroke-width="0.18">20</text>
<text transform="translate(355.3,413.8) scale(0.655,1)" y="2.27" font-size="6.3" text-anchor="middle" fill="#262626" stroke="#262626" stroke-width="0.18">30</text>
<text transform="translate(364.97,413.8) scale(0.655,1)" y="2.27" font-size="6.3" text-anchor="middle" fill="#262626" stroke="#262626" stroke-width="0.18">40</text>
<text transform="translate(374.63,413.8) scale(0.655,1)" y="2.27" font-size="6.3" text-anchor="middle" fill="#262626" stroke="#262626" stroke-width="0.18">50</text>
<text transform="translate(384.3,413.8) scale(0.655,1)" y="2.27" font-size="6.3" text-anchor="middle" fill="#262626" stroke="#262626" stroke-width="0.18">60</text>
<text transform="translate(355.3,423.2) scale(0.73,1)" y="2.12" font-size="5.9" text-anchor="middle" fill="#262626" stroke="#262626" stroke-width="0.18">Speed (km/h)</text>
<text transform="translate(317,326.1) scale(0.72,1) rotate(-90)" y="2.34" font-size="6.5" text-anchor="middle" fill="#4a4a4a" stroke="#4a4a4a" stroke-width="0.05">Packet delivery ratio (%)</text>
<rect x="403.1" y="245.3" width="57.9" height="162.1" fill="none" stroke="#b4b4b4" stroke-width="0.7"/>
<text transform="translate(432.05,233.7) scale(0.56,1)" y="2.09" font-size="5.8" text-anchor="middle" font-weight="bold" fill="#111" stroke="#111" stroke-width="0.12" letter-spacing="0.36">Packet delivery ratio variation with</text>
<text transform="translate(432.05,240.4) scale(0.56,1)" y="2.09" font-size="5.8" text-anchor="middle" font-weight="bold" fill="#111" stroke="#111" stroke-width="0.12" letter-spacing="0.36">speed for a rural mobility scenario</text>
<text transform="translate(401.5,407.65) scale(0.655,1)" y="2.27" font-size="6.3" text-anchor="end" fill="#262626" stroke="#262626" stroke-width="0.18">0</text>
<text transform="translate(401.5,391.49) scale(0.655,1)" y="2.27" font-size="6.3" text-anchor="end" fill="#262626" stroke="#262626" stroke-width="0.18">5</text>
<text transform="translate(401.5,375.33) scale(0.655,1)" y="2.27" font-size="6.3" text-anchor="end" fill="#262626" stroke="#262626" stroke-width="0.18">10</text>
<text transform="translate(401.5,359.17) scale(0.655,1)" y="2.27" font-size="6.3" text-anchor="end" fill="#262626" stroke="#262626" stroke-width="0.18">15</text>
<text transform="translate(401.5,343.01) scale(0.655,1)" y="2.27" font-size="6.3" text-anchor="end" fill="#262626" stroke="#262626" stroke-width="0.18">20</text>
<text transform="translate(401.5,326.85) scale(0.655,1)" y="2.27" font-size="6.3" text-anchor="end" fill="#262626" stroke="#262626" stroke-width="0.18">25</text>
<text transform="translate(401.5,310.69) scale(0.655,1)" y="2.27" font-size="6.3" text-anchor="end" fill="#262626" stroke="#262626" stroke-width="0.18">30</text>
<text transform="translate(401.5,294.53) scale(0.655,1)" y="2.27" font-size="6.3" text-anchor="end" fill="#262626" stroke="#262626" stroke-width="0.18">35</text>
<text transform="translate(401.5,278.37) scale(0.655,1)" y="2.27" font-size="6.3" text-anchor="end" fill="#262626" stroke="#262626" stroke-width="0.18">40</text>
<text transform="translate(401.5,262.21) scale(0.655,1)" y="2.27" font-size="6.3" text-anchor="end" fill="#262626" stroke="#262626" stroke-width="0.18">45</text>
<text transform="translate(401.5,246.05) scale(0.655,1)" y="2.27" font-size="6.3" text-anchor="end" fill="#262626" stroke="#262626" stroke-width="0.18">50</text>
<text transform="translate(405.3,412.5) scale(0.655,1) rotate(-45)" y="2.27" font-size="6.3" text-anchor="end" fill="#262626" stroke="#262626" stroke-width="0.18">0</text>
<text transform="translate(416.88,412.5) scale(0.655,1) rotate(-45)" y="2.27" font-size="6.3" text-anchor="end" fill="#262626" stroke="#262626" stroke-width="0.18">20</text>
<text transform="translate(428.46,412.5) scale(0.655,1) rotate(-45)" y="2.27" font-size="6.3" text-anchor="end" fill="#262626" stroke="#262626" stroke-width="0.18">40</text>
<text transform="translate(440.04,412.5) scale(0.655,1) rotate(-45)" y="2.27" font-size="6.3" text-anchor="end" fill="#262626" stroke="#262626" stroke-width="0.18">60</text>
<text transform="translate(451.62,412.5) scale(0.655,1) rotate(-45)" y="2.27" font-size="6.3" text-anchor="end" fill="#262626" stroke="#262626" stroke-width="0.18">80</text>
<text transform="translate(463.2,412.5) scale(0.655,1) rotate(-45)" y="2.27" font-size="6.3" text-anchor="end" fill="#262626" stroke="#262626" stroke-width="0.18">100</text>
<text transform="translate(432.05,427.7) scale(0.73,1)" y="2.12" font-size="5.9" text-anchor="middle" fill="#262626" stroke="#262626" stroke-width="0.18">Speed (km/h)</text>
<text transform="translate(393.8,326.1) scale(0.72,1) rotate(-90)" y="2.34" font-size="6.5" text-anchor="middle" fill="#4a4a4a" stroke="#4a4a4a" stroke-width="0.05">Packet delivery ratio (%)</text>
<rect x="479.7" y="245.3" width="58" height="162.1" fill="none" stroke="#b4b4b4" stroke-width="0.7"/>
<path d="M497.45,407.4 L499.25,406.7 L501.25,409.4 L503.05,407.4" stroke="#6a6a6a" stroke-width="0.8" fill="none" stroke-linejoin="round"/>
<path d="M505.7,407.4 L507.5,406.7 L509.5,409.4 L511.3,407.4" stroke="#6a6a6a" stroke-width="0.8" fill="none" stroke-linejoin="round"/>
<path d="M513.85,407.4 L515.65,406.7 L517.65,409.4 L519.45,407.4" stroke="#6a6a6a" stroke-width="0.8" fill="none" stroke-linejoin="round"/>
<path d="M522.1,407.4 L523.9,406.7 L525.9,409.4 L527.7,407.4" stroke="#6a6a6a" stroke-width="0.8" fill="none" stroke-linejoin="round"/>
<path d="M530.5,407.4 L532.3,406.7 L534.3,409.4 L536.1,407.4" stroke="#6a6a6a" stroke-width="0.8" fill="none" stroke-linejoin="round"/>
<text transform="translate(508.7,233.7) scale(0.56,1)" y="2.09" font-size="5.8" text-anchor="middle" font-weight="bold" fill="#111" stroke="#111" stroke-width="0.12" letter-spacing="0.36">Packet delivery ratio variation with</text>
<text transform="translate(508.7,240.4) scale(0.56,1)" y="2.09" font-size="5.8" text-anchor="middle" font-weight="bold" fill="#111" stroke="#111" stroke-width="0.12" letter-spacing="0.36">speed for an autobahn mobility scenario</text>
<text transform="translate(478.1,407.65) scale(0.655,1)" y="2.27" font-size="6.3" text-anchor="end" fill="#262626" stroke="#262626" stroke-width="0.18">0</text>
<text transform="translate(478.1,391.49) scale(0.655,1)" y="2.27" font-size="6.3" text-anchor="end" fill="#262626" stroke="#262626" stroke-width="0.18">5</text>
<text transform="translate(478.1,375.33) scale(0.655,1)" y="2.27" font-size="6.3" text-anchor="end" fill="#262626" stroke="#262626" stroke-width="0.18">10</text>
<text transform="translate(478.1,359.17) scale(0.655,1)" y="2.27" font-size="6.3" text-anchor="end" fill="#262626" stroke="#262626" stroke-width="0.18">15</text>
<text transform="translate(478.1,343.01) scale(0.655,1)" y="2.27" font-size="6.3" text-anchor="end" fill="#262626" stroke="#262626" stroke-width="0.18">20</text>
<text transform="translate(478.1,326.85) scale(0.655,1)" y="2.27" font-size="6.3" text-anchor="end" fill="#262626" stroke="#262626" stroke-width="0.18">25</text>
<text transform="translate(478.1,310.69) scale(0.655,1)" y="2.27" font-size="6.3" text-anchor="end" fill="#262626" stroke="#262626" stroke-width="0.18">30</text>
<text transform="translate(478.1,294.53) scale(0.655,1)" y="2.27" font-size="6.3" text-anchor="end" fill="#262626" stroke="#262626" stroke-width="0.18">35</text>
<text transform="translate(478.1,278.37) scale(0.655,1)" y="2.27" font-size="6.3" text-anchor="end" fill="#262626" stroke="#262626" stroke-width="0.18">40</text>
<text transform="translate(478.1,262.21) scale(0.655,1)" y="2.27" font-size="6.3" text-anchor="end" fill="#262626" stroke="#262626" stroke-width="0.18">45</text>
<text transform="translate(478.1,246.05) scale(0.655,1)" y="2.27" font-size="6.3" text-anchor="end" fill="#262626" stroke="#262626" stroke-width="0.18">50</text>
<text transform="translate(481.9,412.5) scale(0.655,1) rotate(-45)" y="2.27" font-size="6.3" text-anchor="end" fill="#262626" stroke="#262626" stroke-width="0.18">0</text>
<text transform="translate(491.8,412.5) scale(0.655,1) rotate(-45)" y="2.27" font-size="6.3" text-anchor="end" fill="#262626" stroke="#262626" stroke-width="0.18">25</text>
<text transform="translate(498.5,412.5) scale(0.655,1) rotate(-45)" y="2.27" font-size="6.3" text-anchor="end" fill="#262626" stroke="#262626" stroke-width="0.18">50</text>
<text transform="translate(506.8,412.5) scale(0.655,1) rotate(-45)" y="2.27" font-size="6.3" text-anchor="end" fill="#262626" stroke="#262626" stroke-width="0.18">80</text>
<text transform="translate(515,412.5) scale(0.655,1) rotate(-45)" y="2.27" font-size="6.3" text-anchor="end" fill="#262626" stroke="#262626" stroke-width="0.18">120</text>
<text transform="translate(523.1,412.5) scale(0.655,1) rotate(-45)" y="2.27" font-size="6.3" text-anchor="end" fill="#262626" stroke="#262626" stroke-width="0.18">170</text>
<text transform="translate(531.5,412.5) scale(0.655,1) rotate(-45)" y="2.27" font-size="6.3" text-anchor="end" fill="#262626" stroke="#262626" stroke-width="0.18">210</text>
<text transform="translate(539.9,412.5) scale(0.655,1) rotate(-45)" y="2.27" font-size="6.3" text-anchor="end" fill="#262626" stroke="#262626" stroke-width="0.18">250</text>
<text transform="translate(508.7,427.7) scale(0.73,1)" y="2.12" font-size="5.9" text-anchor="middle" fill="#262626" stroke="#262626" stroke-width="0.18">Speed (km/h)</text>
<text transform="translate(470.5,326.1) scale(0.72,1) rotate(-90)" y="2.34" font-size="6.5" text-anchor="middle" fill="#4a4a4a" stroke="#4a4a4a" stroke-width="0.05">Packet delivery ratio (%)</text>
<rect x="339.6" y="249" width="36.7" height="22" fill="#fff" stroke="#b4b4b4" stroke-width="0.6"/>
<line x1="340.6" y1="253.4" x2="347.2" y2="253.4" stroke="#ff1a1a" stroke-width="1"/>
<circle cx="343.9" cy="253.4" r="1.7" fill="#ff1a1a"/>
<text transform="translate(348,253.4) scale(0.645,1)" y="2.05" font-size="5.7" text-anchor="start" fill="#202020" stroke="#202020" stroke-width="0.14">Dijkstra</text>
<line x1="340.6" y1="260.4" x2="347.2" y2="260.4" stroke="#2222ff" stroke-width="1"/>
<path d="M342.2,258.7L345.6,262.1M342.2,262.1L345.6,258.7M341.86,260.4L345.94,260.4" stroke="#2222ff" stroke-width="0.8" fill="none"/>
<text transform="translate(348,260.4) scale(0.645,1)" y="2.05" font-size="5.7" text-anchor="start" fill="#202020" stroke="#202020" stroke-width="0.14">Proposed routing</text>
<line x1="340.6" y1="267.3" x2="347.2" y2="267.3" stroke="#ff00ff" stroke-width="1"/>
<polygon points="343.9,265.6 345.6,268.66 342.2,268.66" fill="#ff00ff"/>
<text transform="translate(348,267.3) scale(0.645,1)" y="2.05" font-size="5.7" text-anchor="start" fill="#202020" stroke="#202020" stroke-width="0.14">AODV</text>
<rect x="415.8" y="247.9" width="37" height="23.1" fill="#fff" stroke="#b4b4b4" stroke-width="0.6"/>
<line x1="416.8" y1="252.8" x2="423.4" y2="252.8" stroke="#ff1a1a" stroke-width="1"/>
<circle cx="420.1" cy="252.8" r="1.7" fill="#ff1a1a"/>
<text transform="translate(424.2,252.8) scale(0.645,1)" y="2.05" font-size="5.7" text-anchor="start" fill="#202020" stroke="#202020" stroke-width="0.14">Dijkstra</text>
<line x1="416.8" y1="260" x2="423.4" y2="260" stroke="#2222ff" stroke-width="1"/>
<path d="M418.4,258.3L421.8,261.7M418.4,261.7L421.8,258.3M418.06,260L422.14,260" stroke="#2222ff" stroke-width="0.8" fill="none"/>
<text transform="translate(424.2,260) scale(0.645,1)" y="2.05" font-size="5.7" text-anchor="start" fill="#202020" stroke="#202020" stroke-width="0.14">Proposed routing</text>
<line x1="416.8" y1="267.2" x2="423.4" y2="267.2" stroke="#ff00ff" stroke-width="1"/>
<polygon points="420.1,265.5 421.8,268.56 418.4,268.56" fill="#ff00ff"/>
<text transform="translate(424.2,267.2) scale(0.645,1)" y="2.05" font-size="5.7" text-anchor="start" fill="#202020" stroke="#202020" stroke-width="0.14">AODV</text>
<rect x="480.3" y="381.4" width="37.2" height="22.2" fill="#fff" stroke="#b4b4b4" stroke-width="0.6"/>
<line x1="481.3" y1="385.9" x2="488" y2="385.9" stroke="#ff1a1a" stroke-width="1"/>
<circle cx="484.65" cy="385.9" r="1.7" fill="#ff1a1a"/>
<text transform="translate(488.8,385.9) scale(0.645,1)" y="2.05" font-size="5.7" text-anchor="start" fill="#202020" stroke="#202020" stroke-width="0.14">Dijkstra</text>
<line x1="481.3" y1="393" x2="488" y2="393" stroke="#2222ff" stroke-width="1"/>
<path d="M482.95,391.3L486.35,394.7M482.95,394.7L486.35,391.3M482.61,393L486.69,393" stroke="#2222ff" stroke-width="0.8" fill="none"/>
<text transform="translate(488.8,393) scale(0.645,1)" y="2.05" font-size="5.7" text-anchor="start" fill="#202020" stroke="#202020" stroke-width="0.14">Proposed routing</text>
<line x1="481.3" y1="400" x2="488" y2="400" stroke="#ff00ff" stroke-width="1"/>
<polygon points="484.65,398.3 486.35,401.36 482.95,401.36" fill="#ff00ff"/>
<text transform="translate(488.8,400) scale(0.645,1)" y="2.05" font-size="5.7" text-anchor="start" fill="#202020" stroke="#202020" stroke-width="0.14">AODV</text>
<text x="430.5" y="448.5" font-size="11.2" text-anchor="middle" font-family="Liberation Serif, serif" fill="#111" letter-spacing="0"><tspan fill="#333">(</tspan><tspan font-weight="bold" stroke="#111" stroke-width="0.15">d</tspan><tspan fill="#333">)</tspan></text>
</svg></body></html>
